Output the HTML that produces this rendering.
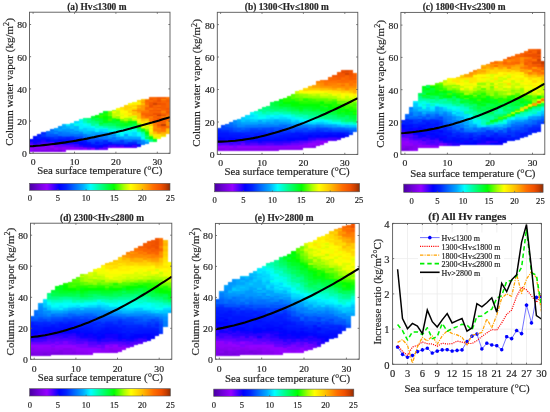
<!DOCTYPE html>
<html><head><meta charset="utf-8"><title>Figure</title>
<style>html,body{margin:0;padding:0;background:#fff}svg{display:block}text{font-family:'Liberation Serif', serif;fill:#262626;stroke:#262626;stroke-width:0.18px}</style>
</head><body>
<svg width="550" height="412" viewBox="0 0 550 412">
<rect width="550" height="412" fill="#fff"/>
<filter id="bl" x="-5%" y="-5%" width="110%" height="110%" color-interpolation-filters="sRGB"><feConvolveMatrix order="3" kernelMatrix="1 2 1 2 8 2 1 2 1" divisor="20" edgeMode="none" preserveAlpha="false"/></filter>
<clipPath id="cla"><rect x="29.5" y="12.2" width="140.50" height="141.10"/></clipPath>
<g clip-path="url(#cla)"><g filter="url(#bl)"><g transform="translate(33.1,153.3) scale(4.14,-1.61)" shape-rendering="crispEdges" fill="none" stroke-width="1">
<path stroke="#8f00f8" d="M-0.5 1v2M0.5 3v1M1.5 3v1M2.5 2v1M5.5 3v1M7.5 1v3M8.5 2v1M21.5 3v1"/>
<path stroke="#9300ff" d="M-0.5 3v2M2.5 4v1M4.5 3v2M5.5 2v1M9.5 2v2M10.5 2v1M12.5 2v1M14.5 2v1M19.5 3v1M20.5 3v1"/>
<path stroke="#5300ff" d="M-0.5 5v1M4.5 6v1M5.5 5v1M6.5 5v2M9.5 4v1M12.5 3v1M17.5 3v1M24.5 3v1"/>
<path stroke="#3d00ff" d="M-0.5 6v1M0.5 5v1M1.5 5v1M2.5 6v1M3.5 6v1M7.5 5v1M9.5 5v1M10.5 4v2M13.5 3v1M15.5 2v1M18.5 4v1M19.5 4v1M21.5 4v1M24.5 4v1"/>
<path stroke="#1100ff" d="M-0.5 7v1M0.5 6v2M1.5 7v1M8.5 6v1M9.5 6v1M12.5 4v1M13.5 4v1M15.5 3v1M16.5 3v1M17.5 4v1M19.5 5v1M22.5 4v1M23.5 4v1"/>
<path stroke="#0002ff" d="M-0.5 8v1M3.5 7v2M5.5 6v1M6.5 7v1M7.5 6v1M10.5 6v1M11.5 5v2M12.5 5v1M16.5 4v1M17.5 5v1"/>
<path stroke="#8700f0" d="M0.5 1v2M1.5 1v2M3.5 2v2M4.5 1v1M6.5 2v1"/>
<path stroke="#6800ff" d="M0.5 4v1M2.5 5v1M3.5 5v1M4.5 5v1M5.5 4v1M6.5 4v1M7.5 4v1M8.5 4v1M13.5 2v1M16.5 2v1M17.5 2v1M18.5 3v1"/>
<path stroke="#000bff" d="M0.5 8v3M1.5 8v1M2.5 8v1M4.5 7v1M5.5 7v1M7.5 7v1M8.5 7v1M12.5 6v1M13.5 5v1M14.5 4v1M15.5 4v1M18.5 5v1M20.5 5v1M24.5 5v1"/>
<path stroke="#7d00ff" d="M1.5 4v1M2.5 3v1M3.5 4v1M6.5 3v1M8.5 3v1M10.5 3v1M11.5 2v2M22.5 3v1M23.5 3v1"/>
<path stroke="#2700ff" d="M1.5 6v1M2.5 7v1M8.5 5v1M11.5 4v1M14.5 3v1M20.5 4v1"/>
<path stroke="#001cff" d="M1.5 9v3M3.5 9v1M4.5 8v1M5.5 8v1M8.5 9v1M9.5 8v1"/>
<path stroke="#7f00e8" d="M2.5 1v1M3.5 1v1M4.5 2v1M5.5 1v1"/>
<path stroke="#0013ff" d="M2.5 9v1M6.5 8v1M7.5 8v1M8.5 8v1M9.5 7v1M10.5 7v1M11.5 7v1M12.5 7v1M13.5 6v1M14.5 5v1M15.5 6v1M18.5 6v1M21.5 5v1M22.5 5v1M23.5 5v1M25.5 4v2"/>
<path stroke="#0035ff" d="M2.5 10v2M5.5 9v1M6.5 10v1M10.5 9v1M12.5 8v1M14.5 6v1M15.5 7v1M19.5 6v1M20.5 6v1M21.5 6v2"/>
<path stroke="#0026ff" d="M2.5 12v1M4.5 9v1M6.5 9v1M7.5 9v1M9.5 9v1M10.5 8v1M11.5 8v1M15.5 5v1M16.5 5v2M17.5 6v2M23.5 6v1M24.5 6v1"/>
<path stroke="#0044ff" d="M3.5 10v1M5.5 10v1M9.5 10v1M11.5 9v1M13.5 7v2M14.5 7v1M16.5 7v1M22.5 6v1"/>
<path stroke="#0053ff" d="M3.5 11v1M4.5 10v2M5.5 11v1M7.5 10v1M8.5 10v1M11.5 10v1M14.5 8v1M16.5 8v1M20.5 7v1M24.5 7v1"/>
<path stroke="#0062ff" d="M3.5 12v1M10.5 10v1M12.5 9v1M15.5 8v2M16.5 10v1M18.5 7v2M19.5 7v1M22.5 7v1M25.5 7v1"/>
<path stroke="#006fff" d="M3.5 13v1M4.5 12v1M4.5 14v1M5.5 13v1M6.5 11v2M7.5 11v1M8.5 11v1M9.5 11v1M10.5 11v1M11.5 11v1M13.5 10v1M14.5 9v1M17.5 8v1M19.5 9v1M23.5 7v1M25.5 6v1"/>
<path stroke="#007cff" d="M4.5 13v1M7.5 12v1M8.5 12v1M12.5 10v2M13.5 9v1M16.5 9v1M17.5 9v2M19.5 8v1M21.5 8v1M22.5 8v1M23.5 8v1M26.5 5v2"/>
<path stroke="#008aff" d="M5.5 12v1M6.5 13v1M7.5 13v1M9.5 12v1M10.5 13v1M11.5 12v1M15.5 10v2M17.5 11v1M18.5 9v1M19.5 11v1M20.5 8v2M24.5 8v1M26.5 7v1"/>
<path stroke="#0097ff" d="M5.5 14v1M6.5 15v2M7.5 14v1M8.5 13v2M9.5 14v1M10.5 12v1M13.5 11v1M14.5 11v1M16.5 11v1M18.5 11v1M21.5 9v1M25.5 8v1M27.5 6v1"/>
<path stroke="#00a5ff" d="M5.5 15v1M6.5 14v1M7.5 16v1M8.5 15v1M9.5 13v1M14.5 10v1M14.5 12v1M15.5 12v1M16.5 12v1M17.5 12v1M18.5 10v1M18.5 12v1M19.5 10v1M22.5 11v1M23.5 9v1M24.5 9v1M25.5 9v1"/>
<path stroke="#7800e1" d="M6.5 1v1"/>
<path stroke="#00b6ff" d="M7.5 15v1M7.5 17v1M8.5 16v1M10.5 14v3M11.5 13v1M12.5 12v1M13.5 12v2M14.5 13v1M22.5 9v2M23.5 10v1"/>
<path stroke="#00f0ff" d="M8.5 17v1M9.5 18v1M10.5 18v1M11.5 15v3M11.5 19v1M12.5 16v1M13.5 16v1M15.5 14v1M17.5 13v1M18.5 13v1M19.5 12v1M20.5 13v1M22.5 12v1M23.5 11v2"/>
<path stroke="#00c9ff" d="M9.5 15v3M11.5 14v1M12.5 13v3M16.5 13v1M20.5 10v2M21.5 10v1M24.5 10v1M27.5 7v1"/>
<path stroke="#00ffe7" d="M10.5 17v1M11.5 20v1M12.5 18v1M13.5 17v1M16.5 15v1M19.5 14v1M21.5 13v1M22.5 14v1M24.5 14v1"/>
<path stroke="#00dcff" d="M10.5 19v1M13.5 14v2M14.5 14v2M16.5 14v1M17.5 14v1M24.5 11v2M25.5 10v1M26.5 8v1"/>
<path stroke="#00fffb" d="M11.5 18v1M12.5 17v1M14.5 16v1M15.5 13v1M15.5 15v1M17.5 15v1M19.5 13v1M20.5 12v1M21.5 11v2M22.5 13v1M23.5 13v1M24.5 13v1M25.5 11v2M26.5 9v1"/>
<path stroke="#00ffbe" d="M12.5 19v1M15.5 16v2M18.5 15v1M20.5 14v1M23.5 14v1"/>
<path stroke="#00ffaa" d="M12.5 20v1M17.5 16v1M19.5 15v1M20.5 15v1M22.5 15v1M26.5 12v1"/>
<path stroke="#00ff83" d="M12.5 21v1M13.5 19v1M14.5 19v1M15.5 18v1M23.5 16v1M25.5 14v1"/>
<path stroke="#00ffd3" d="M13.5 18v1M16.5 16v1M18.5 14v1M21.5 14v1M26.5 10v2M27.5 8v1"/>
<path stroke="#00ff96" d="M13.5 20v1M14.5 17v2M18.5 16v1M19.5 16v1M21.5 15v1M23.5 15v1M24.5 15v1M25.5 13v1M27.5 10v1M28.5 7v1"/>
<path stroke="#00ff5e" d="M13.5 21v1M14.5 20v1M15.5 21v1M16.5 17v1M17.5 18v1M18.5 17v1M19.5 17v1M22.5 16v1M25.5 15v1"/>
<path stroke="#00ff38" d="M14.5 21v2M15.5 20v1M16.5 20v1M20.5 17v1M20.5 19v1M21.5 18v1M27.5 11v1M29.5 7v1"/>
<path stroke="#00ff70" d="M15.5 19v1M17.5 17v1M18.5 18v1M20.5 16v1M24.5 16v1M28.5 8v1"/>
<path stroke="#00ff13" d="M15.5 22v2M17.5 19v2M22.5 17v1M24.5 19v1M26.5 14v1M28.5 9v1"/>
<path stroke="#00ff26" d="M16.5 18v1M16.5 21v1M16.5 24v1M17.5 25v1M18.5 19v1M19.5 19v2M21.5 17v1M22.5 18v1M23.5 17v2M24.5 18v1M29.5 8v1"/>
<path stroke="#00ff4b" d="M16.5 19v1M19.5 18v1M20.5 18v1M21.5 16v1M24.5 17v1M26.5 13v1M27.5 9v1"/>
<path stroke="#1dff00" d="M16.5 22v1M17.5 23v2M18.5 21v2M21.5 19v1"/>
<path stroke="#3aff00" d="M16.5 23v1M18.5 20v1M19.5 21v1M22.5 19v1M27.5 13v1M28.5 10v1"/>
<path stroke="#00ff00" d="M17.5 21v2M20.5 20v1M23.5 19v1M25.5 16v1M27.5 12v1"/>
<path stroke="#74ff00" d="M18.5 23v1M18.5 25v1M21.5 20v1M23.5 20v1M26.5 15v1M27.5 14v1"/>
<path stroke="#57ff00" d="M18.5 24v1M25.5 17v1"/>
<path stroke="#aeff00" d="M19.5 22v1M22.5 20v1M25.5 18v1"/>
<path stroke="#c4ff00" d="M19.5 23v2M20.5 24v2M24.5 20v1M24.5 22v1M27.5 16v1M28.5 11v1M29.5 9v1"/>
<path stroke="#f1ff00" d="M19.5 25v1M20.5 23v1M21.5 21v2M21.5 24v1M22.5 22v1M24.5 31v1M26.5 16v1M28.5 13v1M30.5 9v1M31.5 10v1"/>
<path stroke="#92ff00" d="M19.5 26v1M20.5 21v2M22.5 21v1M23.5 21v1"/>
<path stroke="#dbff00" d="M20.5 26v1M21.5 23v1M23.5 22v1M26.5 17v1M27.5 15v1"/>
<path stroke="#fffb00" d="M20.5 27v1M21.5 25v2M22.5 23v1M22.5 25v1M23.5 30v1M24.5 21v1M26.5 18v1M28.5 14v1M28.5 16v1"/>
<path stroke="#ffe700" d="M21.5 27v1M22.5 26v1M24.5 23v1M27.5 19v1M28.5 12v1M28.5 15v1M29.5 11v1M30.5 11v1"/>
<path stroke="#ffdc00" d="M21.5 28v1M23.5 26v2M23.5 29v1M25.5 32v1M26.5 19v1M28.5 18v1M30.5 10v1"/>
<path stroke="#fff100" d="M22.5 24v1M23.5 24v1M24.5 28v1M24.5 30v1M25.5 19v2M25.5 30v2M27.5 17v1M29.5 10v1"/>
<path stroke="#ffd200" d="M22.5 27v3M23.5 23v1M23.5 25v1M24.5 27v1M24.5 29v1M27.5 18v1"/>
<path stroke="#ffc800" d="M23.5 28v1M24.5 25v1M25.5 21v1M26.5 33v1M27.5 20v1M28.5 17v1M31.5 11v1"/>
<path stroke="#ffbe00" d="M24.5 24v1M25.5 22v3M25.5 28v1M26.5 20v1M26.5 30v1M29.5 12v1M32.5 12v3"/>
<path stroke="#ff7f00" d="M24.5 26v1M25.5 26v1M26.5 22v1M27.5 26v1M27.5 29v1M28.5 22v1M29.5 14v1M29.5 17v1M30.5 13v2M31.5 22v1M31.5 25v1M32.5 21v3"/>
<path stroke="#ff9800" d="M25.5 25v1M25.5 27v1M26.5 21v1M26.5 27v3M26.5 31v1M27.5 21v1M30.5 12v1"/>
<path stroke="#ffa500" d="M25.5 29v1M29.5 13v1M32.5 15v1"/>
<path stroke="#ff7300" d="M26.5 23v1M26.5 25v1M27.5 25v1M28.5 20v2M28.5 27v1M29.5 18v1M30.5 18v1M31.5 13v2M32.5 34v1"/>
<path stroke="#fa6300" d="M26.5 24v1M27.5 24v1M27.5 27v2M27.5 32v1M28.5 24v2M28.5 34v1M29.5 25v1M29.5 27v1M29.5 29v1M29.5 34v1M30.5 22v1M30.5 25v1M30.5 31v1M31.5 16v1M31.5 20v1M31.5 24v1M31.5 31v2M32.5 16v1M32.5 24v1M32.5 26v1M32.5 28v4M32.5 33v1"/>
<path stroke="#ff8c00" d="M26.5 26v1M27.5 33v1M28.5 19v1M29.5 15v2M30.5 15v1M31.5 33v1M32.5 17v3"/>
<path stroke="#ffb200" d="M26.5 32v1M31.5 12v1"/>
<path stroke="#fd6a00" d="M27.5 22v1M27.5 30v2M28.5 32v1M29.5 19v1M29.5 21v1M29.5 23v1M29.5 33v1M30.5 16v1M30.5 27v1M30.5 29v1M31.5 15v1M31.5 18v1M31.5 26v1M32.5 20v1"/>
<path stroke="#f65c00" d="M27.5 23v1M29.5 20v1M29.5 22v1M29.5 28v1M29.5 32v1M30.5 19v1M31.5 19v1M31.5 27v3M31.5 34v1M32.5 32v1"/>
<path stroke="#ed4f00" d="M28.5 23v1M28.5 29v1M29.5 24v1M30.5 20v2M30.5 24v1M30.5 26v1M30.5 28v1M30.5 30v1M30.5 32v1M31.5 21v1"/>
<path stroke="#f35500" d="M28.5 26v1M28.5 28v1M28.5 30v2M28.5 33v1M29.5 26v1M29.5 31v1M30.5 17v1M30.5 33v2M31.5 30v1M32.5 25v1M32.5 27v1"/>
<path stroke="#d14200" d="M29.5 30v1"/>
<path stroke="#be3b01" d="M30.5 23v1M31.5 17v1"/>
<path stroke="#df4800" d="M31.5 23v1"/>
</g></g>
<polyline points="29.5,146.3 33.1,146.1 36.7,145.8 40.3,145.5 43.9,145.1 47.5,144.7 51.1,144.3 54.7,143.9 58.3,143.4 61.9,142.9 65.5,142.4 69.1,141.8 72.7,141.2 76.3,140.6 79.9,139.9 83.5,139.3 87.1,138.6 90.7,137.8 94.3,137.1 97.9,136.3 101.6,135.5 105.2,134.7 108.8,133.9 112.4,133.0 116.0,132.2 119.6,131.3 123.2,130.4 126.8,129.4 130.4,128.5 134.0,127.5 137.6,126.5 141.2,125.5 144.8,124.5 148.4,123.5 152.0,122.5 155.6,121.4 159.2,120.4 162.8,119.3 166.4,118.2 170.0,117.2" fill="none" stroke="#000" stroke-width="2.1"/>
</g>
<rect x="29.5" y="12.2" width="140.50" height="141.10" fill="none" stroke="#585858" stroke-width="0.9"/>
<path d="M33.1 153.3v-1.6M33.1 12.2v1.6M74.5 153.3v-1.6M74.5 12.2v1.6M115.9 153.3v-1.6M115.9 12.2v1.6M157.3 153.3v-1.6M157.3 12.2v1.6M29.5 153.3h1.6M170.0 153.3h-1.6M29.5 121.1h1.6M170.0 121.1h-1.6M29.5 88.9h1.6M170.0 88.9h-1.6M29.5 56.7h1.6M170.0 56.7h-1.6M29.5 24.5h1.6M170.0 24.5h-1.6" stroke="#585858" stroke-width="0.8" fill="none"/>
<text transform="translate(33.1,165.2) scale(1.08,1)" font-size="9.0" text-anchor="middle">0</text>
<text transform="translate(74.5,165.2) scale(1.08,1)" font-size="9.0" text-anchor="middle">10</text>
<text transform="translate(115.9,165.2) scale(1.08,1)" font-size="9.0" text-anchor="middle">20</text>
<text transform="translate(157.3,165.2) scale(1.08,1)" font-size="9.0" text-anchor="middle">30</text>
<text transform="translate(26.9,157.2) scale(1.08,1)" font-size="9.0" text-anchor="end">0</text>
<text transform="translate(26.9,125.0) scale(1.08,1)" font-size="9.0" text-anchor="end">20</text>
<text transform="translate(26.9,92.8) scale(1.08,1)" font-size="9.0" text-anchor="end">40</text>
<text transform="translate(26.9,60.6) scale(1.08,1)" font-size="9.0" text-anchor="end">60</text>
<text transform="translate(26.9,28.4) scale(1.08,1)" font-size="9.0" text-anchor="end">80</text>
<text x="99.8" y="174.0" font-size="10.8" text-anchor="middle">Sea surface temperature (°C)</text>
<text transform="translate(12.6,82.0) rotate(-90)" font-size="11.05" text-anchor="middle">Column water vapor (kg/m<tspan font-size="8.1" dy="-3.6">2</tspan><tspan dy="3.6">)</tspan></text>
<text x="96.8" y="9.8" font-size="9.4" font-weight="bold" text-anchor="middle" fill="#000">(a) Hv≤1300 m</text>
<linearGradient id="ga" x1="0" x2="1" y1="0" y2="0"><stop offset="0.000" stop-color="#4800a0"/><stop offset="0.060" stop-color="#6e00d7"/><stop offset="0.123" stop-color="#9600ff"/><stop offset="0.170" stop-color="#4600ff"/><stop offset="0.210" stop-color="#0000ff"/><stop offset="0.260" stop-color="#0023ff"/><stop offset="0.310" stop-color="#005fff"/><stop offset="0.380" stop-color="#00aaff"/><stop offset="0.435" stop-color="#00ffff"/><stop offset="0.500" stop-color="#00ff96"/><stop offset="0.600" stop-color="#00ff00"/><stop offset="0.673" stop-color="#aaff00"/><stop offset="0.720" stop-color="#ffff00"/><stop offset="0.800" stop-color="#ffbe00"/><stop offset="0.880" stop-color="#ff6e00"/><stop offset="0.935" stop-color="#f05000"/><stop offset="0.970" stop-color="#c83e00"/><stop offset="1.000" stop-color="#8c2d05"/></linearGradient>
<rect x="29.6" y="183.3" width="140.40" height="7.00" fill="url(#ga)" stroke="#585858" stroke-width="0.6"/>
<text x="29.9" y="201.3" font-size="8.6" text-anchor="middle">0</text>
<text x="58.0" y="201.3" font-size="8.6" text-anchor="middle">5</text>
<text x="86.1" y="201.3" font-size="8.6" text-anchor="middle">10</text>
<text x="114.2" y="201.3" font-size="8.6" text-anchor="middle">15</text>
<text x="142.3" y="201.3" font-size="8.6" text-anchor="middle">20</text>
<text x="170.4" y="201.3" font-size="8.6" text-anchor="middle">25</text>
<path d="M58.0 190.3v-1.4M86.1 190.3v-1.4M114.2 190.3v-1.4M142.3 190.3v-1.4" stroke="#585858" stroke-width="0.7" fill="none"/>
<clipPath id="clb"><rect x="217.3" y="12.3" width="140.50" height="142.10"/></clipPath>
<g clip-path="url(#clb)"><g filter="url(#bl)"><g transform="translate(220.6,154.4) scale(4.14,-1.6225)" shape-rendering="crispEdges" fill="none" stroke-width="1">
<path stroke="#8700f0" d="M-0.5 2v2M0.5 2v2M1.5 2v1M2.5 2v2M3.5 2v2M4.5 3v1M5.5 2v2M6.5 2v2M7.5 2v2M8.5 2v2M9.5 2v2M10.5 2v2M11.5 2v2M12.5 2v2M13.5 2v2M14.5 3v1M15.5 3v1M16.5 3v1M17.5 3v1M18.5 3v1M19.5 3v1M22.5 4v1"/>
<path stroke="#9300ff" d="M-0.5 4v1M0.5 4v1M2.5 4v1M4.5 4v1M5.5 4v1M6.5 4v1M7.5 4v1M8.5 4v1M11.5 4v1M19.5 5v1M20.5 5v1M21.5 5v2M22.5 6v1M24.5 7v1M25.5 7v1"/>
<path stroke="#6800ff" d="M-0.5 5v1M2.5 5v1M3.5 5v1M5.5 5v2M6.5 5v1M7.5 5v1M8.5 5v1M9.5 5v1M10.5 5v1M11.5 5v1M12.5 5v1M13.5 5v1M14.5 5v1M15.5 5v1M17.5 6v1M18.5 6v1M19.5 6v1M21.5 7v1M24.5 8v1M25.5 8v1M26.5 8v1"/>
<path stroke="#5300ff" d="M-0.5 6v1M0.5 6v1M1.5 6v1M3.5 6v1M7.5 6v1M8.5 6v1M11.5 6v1M12.5 6v1M15.5 6v1M16.5 6v1M19.5 7v1M20.5 7v1M22.5 8v1M27.5 8v1"/>
<path stroke="#3d00ff" d="M-0.5 7v1M0.5 7v1M1.5 7v1M2.5 6v2M4.5 6v2M5.5 7v1M6.5 6v1M9.5 6v1M10.5 6v1M13.5 6v1M14.5 6v1M17.5 7v1M18.5 7v1M21.5 8v1M23.5 9v1M24.5 9v1M25.5 9v1M26.5 9v1M27.5 9v1M28.5 9v1"/>
<path stroke="#1100ff" d="M-0.5 8v1M0.5 8v1M1.5 8v1M2.5 8v1M3.5 8v1M5.5 8v1M6.5 8v1M9.5 7v1M15.5 8v1M21.5 10v1M22.5 10v1M23.5 10v1M24.5 10v1M25.5 10v1M28.5 10v1M29.5 10v1"/>
<path stroke="#0002ff" d="M-0.5 9v2M0.5 9v1M2.5 9v1M3.5 9v1M4.5 8v1M7.5 8v1M8.5 8v1M9.5 8v1M10.5 8v1M11.5 8v1M12.5 8v1M13.5 8v1M14.5 8v1M16.5 8v2M17.5 8v2M18.5 9v1M19.5 9v1M20.5 9v2M21.5 11v1M23.5 11v1M25.5 11v1M26.5 11v1M27.5 11v1M28.5 11v1M29.5 11v1"/>
<path stroke="#0013ff" d="M-0.5 11v2M0.5 11v2M1.5 11v2M2.5 11v1M3.5 10v2M4.5 10v2M6.5 10v2M8.5 10v2M11.5 10v2M12.5 9v2M13.5 10v1M14.5 10v2M15.5 11v1M16.5 11v1M17.5 11v2M18.5 11v2M19.5 12v1M21.5 12v1M22.5 12v1M23.5 12v1M24.5 12v2M25.5 12v2M27.5 12v1"/>
<path stroke="#001cff" d="M-0.5 13v2M0.5 13v1M1.5 13v1M2.5 12v1M3.5 12v1M4.5 12v1M5.5 11v2M7.5 11v1M8.5 12v1M9.5 11v2M10.5 11v2M11.5 12v1M12.5 11v1M12.5 13v1M13.5 11v1M14.5 13v1M15.5 12v1M16.5 12v1M18.5 13v1M20.5 12v1M22.5 13v1M23.5 13v1M26.5 13v1M27.5 13v1M28.5 13v1M30.5 12v1"/>
<path stroke="#0035ff" d="M-0.5 15v1M2.5 14v1M5.5 13v1M7.5 14v1M8.5 13v2M9.5 14v1M10.5 14v1M11.5 13v1M12.5 14v1M13.5 13v1M14.5 14v1M15.5 13v2M16.5 14v1M17.5 13v1M18.5 14v1M19.5 14v1M21.5 14v1M22.5 14v1M24.5 14v1M26.5 14v1M31.5 12v1"/>
<path stroke="#7d00ff" d="M0.5 5v1M1.5 5v1M3.5 4v1M4.5 5v1M16.5 5v1M17.5 5v1M18.5 5v1M20.5 6v1M22.5 7v1M23.5 7v2"/>
<path stroke="#000bff" d="M0.5 10v1M1.5 9v2M2.5 10v1M4.5 9v1M5.5 9v2M6.5 9v1M7.5 9v2M8.5 9v1M9.5 9v2M10.5 9v2M11.5 9v1M13.5 9v1M14.5 9v1M15.5 9v2M16.5 10v1M17.5 10v1M18.5 10v1M19.5 10v2M20.5 11v1M22.5 11v1M24.5 11v1M26.5 12v1M28.5 12v1M29.5 12v1M30.5 11v1"/>
<path stroke="#0026ff" d="M0.5 14v1M1.5 14v1M2.5 13v1M3.5 13v1M4.5 13v1M6.5 12v2M7.5 12v2M9.5 13v1M10.5 13v1M12.5 12v1M13.5 12v1M14.5 12v1M16.5 13v1M19.5 13v1M20.5 13v1M21.5 13v1M23.5 14v1M29.5 13v1M30.5 13v1"/>
<path stroke="#0044ff" d="M0.5 15v3M1.5 15v2M2.5 15v1M3.5 14v1M5.5 14v1M6.5 14v1M7.5 15v1M8.5 15v1M10.5 15v1M11.5 14v2M12.5 15v1M13.5 14v1M14.5 15v1M17.5 14v1M20.5 14v2M23.5 15v1M24.5 15v1M25.5 14v2M27.5 14v1M28.5 14v1M29.5 14v1M30.5 14v1"/>
<path stroke="#8f00f8" d="M1.5 3v2M9.5 4v1M10.5 4v1M12.5 4v1M13.5 4v1M14.5 4v1M15.5 4v1M16.5 4v1M17.5 4v1M18.5 4v1M19.5 4v1M20.5 4v1M21.5 4v1M22.5 5v1M23.5 5v2M24.5 6v1"/>
<path stroke="#0062ff" d="M1.5 17v1M2.5 17v1M3.5 16v1M5.5 15v1M9.5 16v1M10.5 16v1M11.5 16v1M14.5 16v1M15.5 17v1M17.5 16v1M18.5 16v1M21.5 15v1M23.5 16v1M27.5 15v1M28.5 15v1M29.5 15v1M32.5 14v1"/>
<path stroke="#0053ff" d="M1.5 18v1M2.5 16v1M3.5 15v1M4.5 14v2M6.5 15v1M9.5 15v1M12.5 16v1M13.5 15v2M15.5 15v1M16.5 15v1M17.5 15v1M18.5 15v1M19.5 15v1M22.5 15v1M26.5 15v1M31.5 13v2"/>
<path stroke="#006fff" d="M2.5 18v2M3.5 17v1M4.5 16v1M5.5 16v1M6.5 16v1M7.5 16v1M8.5 16v1M14.5 17v1M15.5 16v1M16.5 16v1M19.5 16v1M20.5 16v1M21.5 16v1M24.5 16v1M25.5 16v1M30.5 15v1"/>
<path stroke="#2700ff" d="M3.5 7v1M6.5 7v1M7.5 7v1M8.5 7v1M10.5 7v1M11.5 7v1M12.5 7v1M13.5 7v1M14.5 7v1M15.5 7v1M16.5 7v1M18.5 8v1M19.5 8v1M20.5 8v1M21.5 9v1M22.5 9v1M26.5 10v1M27.5 10v1"/>
<path stroke="#007cff" d="M3.5 18v1M6.5 17v1M7.5 17v1M8.5 17v1M9.5 17v2M10.5 17v1M11.5 17v1M12.5 17v1M13.5 17v1M14.5 18v1M16.5 17v2M17.5 17v1M18.5 17v1M19.5 17v1M20.5 17v1M22.5 16v1M23.5 17v1M26.5 16v1M28.5 16v1M31.5 15v1M32.5 15v1"/>
<path stroke="#008aff" d="M3.5 19v2M4.5 17v2M5.5 17v1M10.5 18v1M11.5 18v1M12.5 18v1M15.5 18v1M21.5 17v1M22.5 17v1M24.5 17v1M27.5 16v1M29.5 16v1"/>
<path stroke="#7f00e8" d="M4.5 2v1"/>
<path stroke="#0097ff" d="M4.5 19v1M5.5 18v1M6.5 18v1M7.5 18v1M8.5 18v1M11.5 19v1M13.5 18v2M14.5 19v1M15.5 19v1M17.5 18v1M18.5 18v1M25.5 17v1M26.5 17v1"/>
<path stroke="#00a5ff" d="M4.5 20v1M5.5 19v1M6.5 19v1M7.5 19v1M8.5 19v1M9.5 19v2M10.5 19v1M12.5 19v1M13.5 20v1M16.5 19v1M19.5 18v1M20.5 18v1M21.5 18v1M23.5 18v1M24.5 18v1M27.5 17v1M30.5 16v1M31.5 16v1M32.5 16v1"/>
<path stroke="#00b6ff" d="M4.5 21v1M6.5 20v1M11.5 20v1M12.5 20v1M13.5 21v1M14.5 20v1M15.5 20v1M16.5 20v1M17.5 19v1M18.5 19v1M19.5 19v1M22.5 18v1M25.5 18v1M26.5 18v1M27.5 18v1M28.5 17v1M30.5 17v1"/>
<path stroke="#00c9ff" d="M5.5 20v3M6.5 21v1M7.5 20v2M8.5 20v1M10.5 20v2M11.5 21v1M12.5 21v1M14.5 21v1M15.5 21v1M16.5 21v1M18.5 20v1M20.5 19v1M23.5 19v1M24.5 19v1M29.5 17v1M31.5 17v1M32.5 17v1"/>
<path stroke="#00dcff" d="M6.5 22v2M7.5 23v1M8.5 21v1M9.5 21v1M12.5 22v1M14.5 22v1M15.5 22v1M17.5 20v1M21.5 19v1M22.5 19v1M25.5 19v1M28.5 18v1"/>
<path stroke="#00f0ff" d="M7.5 22v1M7.5 24v1M8.5 22v2M11.5 22v2M13.5 22v2M14.5 23v1M16.5 22v1M17.5 21v2M18.5 21v1M19.5 20v1M20.5 20v1M21.5 20v1M24.5 20v1M26.5 19v1M29.5 18v1M30.5 18v1"/>
<path stroke="#00fffb" d="M7.5 25v1M8.5 24v1M9.5 22v1M10.5 22v1M12.5 23v1M15.5 23v1M16.5 23v1M19.5 21v1M20.5 21v1M22.5 20v1M23.5 20v1M25.5 20v1M27.5 19v1M28.5 19v1"/>
<path stroke="#00ffd3" d="M8.5 25v2M9.5 24v2M10.5 24v1M12.5 24v1M13.5 25v1M15.5 24v1M16.5 24v1M17.5 23v1M23.5 21v1M29.5 19v1M31.5 19v1"/>
<path stroke="#00ffe7" d="M9.5 23v1M10.5 23v1M14.5 24v1M18.5 22v1M19.5 22v1M21.5 21v1M22.5 21v1M24.5 21v1M26.5 20v1M31.5 18v1M32.5 18v1"/>
<path stroke="#00ffbe" d="M9.5 26v1M11.5 24v2M12.5 25v1M13.5 24v1M14.5 25v1M17.5 24v1M18.5 23v1M20.5 22v2M22.5 22v1M25.5 21v1M27.5 20v1M28.5 20v1M30.5 19v1"/>
<path stroke="#00ff83" d="M9.5 27v1M10.5 26v1M11.5 27v2M12.5 26v2M14.5 26v2M16.5 26v1M17.5 25v1M18.5 25v1M20.5 24v1M25.5 22v1M26.5 22v2M27.5 22v1M29.5 20v2"/>
<path stroke="#00ffaa" d="M10.5 25v1M11.5 26v1M15.5 25v1M16.5 25v1M19.5 23v2M21.5 22v1M26.5 21v1M32.5 19v1"/>
<path stroke="#00ff96" d="M10.5 27v1M13.5 26v1M15.5 26v1M18.5 24v1M21.5 23v1M22.5 23v1M23.5 22v2M24.5 22v1M27.5 21v1M28.5 21v1"/>
<path stroke="#00ff70" d="M10.5 28v1M13.5 27v1M15.5 27v1M17.5 26v1M18.5 26v1M19.5 25v1M20.5 25v1M21.5 24v2M22.5 24v2M23.5 24v1M24.5 23v1M25.5 23v1M27.5 23v1M28.5 22v1M29.5 22v1M30.5 20v1M30.5 22v1M31.5 20v1"/>
<path stroke="#00ff5e" d="M11.5 29v1M12.5 28v2M13.5 28v1M15.5 28v1M16.5 27v1M20.5 26v1M21.5 26v1M23.5 25v1M24.5 24v2M25.5 24v1M30.5 21v1M30.5 23v1M31.5 21v1M32.5 20v1"/>
<path stroke="#00ff4b" d="M12.5 30v2M13.5 29v1M14.5 28v1M16.5 28v1M17.5 27v1M18.5 27v1M19.5 26v1M20.5 27v1M22.5 26v1M23.5 26v1M25.5 25v1M26.5 24v3M27.5 24v1M28.5 23v1M31.5 22v1M32.5 21v1"/>
<path stroke="#00ff38" d="M13.5 30v2M14.5 29v1M17.5 28v1M21.5 27v1M23.5 27v1M24.5 26v1M25.5 26v1M27.5 25v1M28.5 24v1M29.5 23v2M31.5 23v1M32.5 22v2"/>
<path stroke="#00ff26" d="M13.5 32v1M14.5 31v1M15.5 29v2M16.5 29v2M18.5 28v1M19.5 27v1M19.5 29v1M20.5 28v1M21.5 28v1M22.5 27v1M24.5 29v1M25.5 28v1M27.5 26v2M29.5 25v1M31.5 25v1"/>
<path stroke="#00ff13" d="M14.5 30v1M14.5 32v2M17.5 29v1M17.5 32v1M18.5 29v1M19.5 28v1M20.5 29v1M21.5 29v1M22.5 28v2M23.5 28v1M24.5 27v2M25.5 27v1M26.5 27v1M28.5 25v3M29.5 27v1M30.5 24v2M31.5 24v1"/>
<path stroke="#00ff00" d="M15.5 31v1M16.5 31v1M17.5 30v2M18.5 30v2M19.5 30v1M20.5 30v1M21.5 30v1M22.5 30v1M23.5 29v2M24.5 31v1M25.5 30v1M26.5 28v3M27.5 28v1M28.5 28v2M29.5 29v1M30.5 26v2M31.5 26v1M32.5 24v1M32.5 26v1"/>
<path stroke="#1dff00" d="M15.5 32v3M16.5 32v3M17.5 33v1M18.5 32v1M19.5 31v2M20.5 31v1M20.5 33v1M21.5 31v2M22.5 31v1M23.5 31v1M24.5 30v1M24.5 32v1M27.5 29v3M28.5 30v1M29.5 26v1M29.5 28v1M31.5 27v2M32.5 25v1M32.5 27v1"/>
<path stroke="#3aff00" d="M16.5 35v1M18.5 33v2M20.5 32v1M20.5 34v1M21.5 33v1M22.5 32v2M23.5 32v1M25.5 29v1M25.5 31v1M26.5 31v2M27.5 32v1M29.5 30v1M30.5 28v3M31.5 29v1M32.5 28v1M32.5 30v1"/>
<path stroke="#57ff00" d="M17.5 34v3M19.5 33v2M21.5 34v1M23.5 33v1M24.5 33v1M25.5 32v2M27.5 33v1M28.5 32v1M29.5 32v1M31.5 30v1M32.5 29v1M32.5 31v1"/>
<path stroke="#74ff00" d="M18.5 35v2M19.5 35v1M22.5 34v1M23.5 34v1M24.5 34v1M25.5 34v1M26.5 33v1M28.5 31v1M29.5 31v1M30.5 31v2M31.5 31v1"/>
<path stroke="#c4ff00" d="M18.5 37v2M19.5 37v1M22.5 36v1M25.5 37v1M26.5 36v1M30.5 34v2M31.5 34v1"/>
<path stroke="#92ff00" d="M19.5 36v1M20.5 35v2M21.5 35v1M22.5 35v1M23.5 35v1M26.5 34v1M31.5 32v1M32.5 33v1"/>
<path stroke="#fffb00" d="M19.5 38v2M20.5 38v1M21.5 38v1M22.5 38v1M23.5 38v1M24.5 38v1M29.5 36v2M31.5 36v1"/>
<path stroke="#dbff00" d="M20.5 37v1M22.5 37v1M23.5 37v1M24.5 36v2M25.5 36v1M28.5 35v2M29.5 34v1M32.5 34v2"/>
<path stroke="#ffd200" d="M20.5 39v1M24.5 39v1M27.5 39v1M29.5 38v1M32.5 37v1"/>
<path stroke="#ffdc00" d="M20.5 40v1M25.5 39v1M30.5 38v1"/>
<path stroke="#aeff00" d="M21.5 36v1M23.5 36v1M24.5 35v1M25.5 35v1M26.5 35v1M27.5 34v2M28.5 33v2M29.5 33v1M30.5 33v1M31.5 33v1M32.5 32v1"/>
<path stroke="#f1ff00" d="M21.5 37v1M26.5 37v1M27.5 36v1M29.5 35v1M30.5 36v1M31.5 35v1"/>
<path stroke="#ffe700" d="M21.5 39v1M22.5 39v1M23.5 39v1M26.5 38v2M27.5 38v1M28.5 38v1"/>
<path stroke="#ffc800" d="M21.5 40v1M22.5 40v1M23.5 40v1M31.5 38v1"/>
<path stroke="#ffbe00" d="M21.5 41v1M24.5 40v1M25.5 40v1M28.5 39v2M29.5 39v1M31.5 39v1"/>
<path stroke="#ffa500" d="M22.5 41v2M23.5 41v1M27.5 40v1M29.5 40v1M31.5 40v1M32.5 40v1"/>
<path stroke="#ff9800" d="M23.5 42v2M24.5 41v1M25.5 41v1M26.5 41v1"/>
<path stroke="#ff7f00" d="M23.5 44v1M24.5 44v1M25.5 42v1M26.5 42v2M27.5 43v1M28.5 42v1M29.5 43v1M32.5 42v2"/>
<path stroke="#ff8c00" d="M24.5 42v2M27.5 41v2M28.5 41v1M28.5 43v1M29.5 41v1M30.5 40v4M31.5 41v1M32.5 41v1"/>
<path stroke="#ff7300" d="M24.5 45v1M25.5 43v2M26.5 44v1M27.5 44v1M28.5 45v1M31.5 42v3M32.5 45v1"/>
<path stroke="#fff100" d="M25.5 38v1M27.5 37v1M28.5 37v1M30.5 37v1M31.5 37v1M32.5 36v1"/>
<path stroke="#fa6300" d="M25.5 45v1M26.5 45v1M26.5 47v1M27.5 46v2M29.5 45v1M29.5 47v1M30.5 46v3M32.5 47v1M32.5 49v1"/>
<path stroke="#ffb200" d="M26.5 40v1M30.5 39v1M32.5 38v2"/>
<path stroke="#fd6a00" d="M26.5 46v1M27.5 45v1M28.5 44v1M29.5 42v1M29.5 44v1M29.5 46v1M30.5 44v2M31.5 45v1M32.5 44v1"/>
<path stroke="#f35500" d="M27.5 48v1M28.5 48v2M29.5 48v2M31.5 48v1M31.5 50v1"/>
<path stroke="#f65c00" d="M28.5 46v2M28.5 50v1M31.5 46v2M32.5 46v1M32.5 48v1"/>
<path stroke="#df4800" d="M29.5 50v1M30.5 51v1"/>
<path stroke="#ed4f00" d="M29.5 51v1M30.5 50v1M31.5 49v1M31.5 51v1"/>
<path stroke="#d14200" d="M30.5 49v1"/>
</g></g>
<polyline points="217.3,141.6 220.9,141.6 224.5,141.5 228.1,141.3 231.7,141.0 235.3,140.7 238.9,140.3 242.5,139.9 246.1,139.3 249.7,138.7 253.3,138.1 256.9,137.4 260.5,136.6 264.1,135.7 267.7,134.8 271.3,133.8 274.9,132.8 278.5,131.7 282.1,130.6 285.7,129.4 289.4,128.2 293.0,126.9 296.6,125.6 300.2,124.3 303.8,122.9 307.4,121.4 311.0,119.9 314.6,118.4 318.2,116.9 321.8,115.3 325.4,113.7 329.0,112.0 332.6,110.4 336.2,108.7 339.8,107.0 343.4,105.2 347.0,103.5 350.6,101.7 354.2,99.9 357.8,98.1" fill="none" stroke="#000" stroke-width="2.1"/>
</g>
<rect x="217.3" y="12.3" width="140.50" height="142.10" fill="none" stroke="#585858" stroke-width="0.9"/>
<path d="M220.6 154.4v-1.6M220.6 12.3v1.6M262.0 154.4v-1.6M262.0 12.3v1.6M303.4 154.4v-1.6M303.4 12.3v1.6M344.8 154.4v-1.6M344.8 12.3v1.6M217.3 154.4h1.6M357.8 154.4h-1.6M217.3 122.0h1.6M357.8 122.0h-1.6M217.3 89.5h1.6M357.8 89.5h-1.6M217.3 57.0h1.6M357.8 57.0h-1.6M217.3 24.6h1.6M357.8 24.6h-1.6" stroke="#585858" stroke-width="0.8" fill="none"/>
<text transform="translate(220.6,165.9) scale(1.08,1)" font-size="9.0" text-anchor="middle">0</text>
<text transform="translate(262.0,165.9) scale(1.08,1)" font-size="9.0" text-anchor="middle">10</text>
<text transform="translate(303.4,165.9) scale(1.08,1)" font-size="9.0" text-anchor="middle">20</text>
<text transform="translate(344.8,165.9) scale(1.08,1)" font-size="9.0" text-anchor="middle">30</text>
<text transform="translate(214.7,158.3) scale(1.08,1)" font-size="9.0" text-anchor="end">0</text>
<text transform="translate(214.7,125.9) scale(1.08,1)" font-size="9.0" text-anchor="end">20</text>
<text transform="translate(214.7,93.4) scale(1.08,1)" font-size="9.0" text-anchor="end">40</text>
<text transform="translate(214.7,60.9) scale(1.08,1)" font-size="9.0" text-anchor="end">60</text>
<text transform="translate(214.7,28.5) scale(1.08,1)" font-size="9.0" text-anchor="end">80</text>
<text x="287.1" y="175.4" font-size="10.8" text-anchor="middle">Sea surface temperature (°C)</text>
<text transform="translate(200.4,83.0) rotate(-90)" font-size="11.05" text-anchor="middle">Column water vapor (kg/m<tspan font-size="8.1" dy="-3.6">2</tspan><tspan dy="3.6">)</tspan></text>
<text x="286.8" y="10.2" font-size="9.4" font-weight="bold" text-anchor="middle" fill="#000">(b) 1300&lt;Hv≤1800 m</text>
<linearGradient id="gb" x1="0" x2="1" y1="0" y2="0"><stop offset="0.000" stop-color="#4800a0"/><stop offset="0.060" stop-color="#6e00d7"/><stop offset="0.123" stop-color="#9600ff"/><stop offset="0.170" stop-color="#4600ff"/><stop offset="0.210" stop-color="#0000ff"/><stop offset="0.260" stop-color="#0023ff"/><stop offset="0.310" stop-color="#005fff"/><stop offset="0.380" stop-color="#00aaff"/><stop offset="0.435" stop-color="#00ffff"/><stop offset="0.500" stop-color="#00ff96"/><stop offset="0.600" stop-color="#00ff00"/><stop offset="0.673" stop-color="#aaff00"/><stop offset="0.720" stop-color="#ffff00"/><stop offset="0.800" stop-color="#ffbe00"/><stop offset="0.880" stop-color="#ff6e00"/><stop offset="0.935" stop-color="#f05000"/><stop offset="0.970" stop-color="#c83e00"/><stop offset="1.000" stop-color="#8c2d05"/></linearGradient>
<rect x="214.6" y="183.4" width="145.00" height="8.40" fill="url(#gb)" stroke="#585858" stroke-width="0.6"/>
<text x="214.6" y="202.5" font-size="8.6" text-anchor="middle">0</text>
<text x="243.5" y="202.5" font-size="8.6" text-anchor="middle">5</text>
<text x="272.4" y="202.5" font-size="8.6" text-anchor="middle">10</text>
<text x="301.3" y="202.5" font-size="8.6" text-anchor="middle">15</text>
<text x="330.2" y="202.5" font-size="8.6" text-anchor="middle">20</text>
<text x="359.1" y="202.5" font-size="8.6" text-anchor="middle">25</text>
<path d="M243.5 191.8v-1.4M272.4 191.8v-1.4M301.3 191.8v-1.4M330.2 191.8v-1.4" stroke="#585858" stroke-width="0.7" fill="none"/>
<clipPath id="clc"><rect x="400.9" y="12.4" width="143.90" height="141.90"/></clipPath>
<g clip-path="url(#clc)"><g filter="url(#bl)"><g transform="translate(404.9,154.3) scale(4.253,-1.615)" shape-rendering="crispEdges" fill="none" stroke-width="1">
<path stroke="#7800e1" d="M-0.5 2v1M0.5 2v2"/>
<path stroke="#7f00e8" d="M-0.5 3v1M0.5 4v1M1.5 3v2"/>
<path stroke="#8700f0" d="M-0.5 4v2M1.5 2v1M2.5 3v3"/>
<path stroke="#8f00f8" d="M-0.5 6v2M0.5 5v2M1.5 5v2M2.5 2v1M3.5 4v1M4.5 4v2M5.5 4v1M6.5 4v1"/>
<path stroke="#7d00ff" d="M-0.5 8v2M0.5 8v2M1.5 7v2M2.5 6v2M3.5 6v1M6.5 5v1M8.5 6v1"/>
<path stroke="#6800ff" d="M-0.5 10v1M2.5 8v1M3.5 7v2M4.5 6v2M7.5 5v1M9.5 5v2"/>
<path stroke="#3d00ff" d="M-0.5 11v1M0.5 12v2M1.5 10v1M1.5 12v1M2.5 9v1M2.5 11v1M3.5 9v1M4.5 9v2M5.5 9v1M6.5 7v1M8.5 7v1M10.5 6v1M12.5 5v1M19.5 7v1"/>
<path stroke="#5300ff" d="M-0.5 12v1M0.5 10v2M1.5 9v1M1.5 11v1M5.5 6v3M6.5 6v1M6.5 8v1M7.5 6v3M10.5 5v1"/>
<path stroke="#1100ff" d="M-0.5 13v1M-0.5 15v1M0.5 14v1M1.5 14v1M2.5 15v1M3.5 10v2M4.5 12v2M5.5 10v1M6.5 9v2M8.5 8v1M8.5 10v1M9.5 7v1M9.5 10v1M10.5 7v2M11.5 7v1M13.5 6v1M14.5 7v1M17.5 8v1M18.5 7v2M22.5 6v1M22.5 8v1"/>
<path stroke="#2700ff" d="M-0.5 14v1M1.5 13v1M2.5 10v1M4.5 8v1M5.5 11v1M7.5 9v1M11.5 5v2M12.5 6v1M17.5 6v1M18.5 6v1M19.5 6v1M20.5 7v1M21.5 7v1"/>
<path stroke="#000bff" d="M-0.5 16v1M0.5 15v1M0.5 17v1M1.5 17v1M2.5 13v1M4.5 17v1M5.5 12v4M6.5 11v1M6.5 16v1M7.5 12v1M7.5 14v2M8.5 11v1M8.5 13v1M9.5 9v1M9.5 11v1M11.5 9v2M12.5 7v1M12.5 9v1M13.5 7v1M13.5 9v1M14.5 8v1M15.5 7v1M16.5 8v1M17.5 7v1M18.5 9v1M19.5 10v1M20.5 6v1M22.5 9v1M23.5 8v2"/>
<path stroke="#0002ff" d="M-0.5 17v1M1.5 15v1M2.5 12v1M2.5 14v1M3.5 12v5M4.5 11v1M4.5 15v1M6.5 12v1M6.5 14v1M7.5 10v2M8.5 9v1M8.5 14v1M9.5 8v1M11.5 8v1M12.5 8v1M14.5 6v1M15.5 6v1M15.5 9v1M16.5 6v2M19.5 8v2M20.5 8v2M21.5 6v1M21.5 8v1M22.5 7v1M23.5 7v1"/>
<path stroke="#0013ff" d="M-0.5 18v1M0.5 16v1M1.5 16v1M1.5 18v1M2.5 16v1M2.5 18v1M3.5 17v1M4.5 14v1M5.5 17v3M6.5 13v1M6.5 15v1M6.5 18v1M7.5 13v1M7.5 16v1M7.5 18v1M8.5 12v1M9.5 13v1M10.5 9v2M10.5 12v1M12.5 11v1M13.5 8v1M14.5 9v1M15.5 8v1M16.5 10v1M17.5 9v1M18.5 10v2M20.5 10v1M21.5 9v1M22.5 10v1M24.5 8v2M24.5 11v1M25.5 8v2M26.5 10v1M27.5 11v2M28.5 12v1M30.5 14v1"/>
<path stroke="#0026ff" d="M-0.5 19v1M0.5 20v2M1.5 19v1M3.5 19v1M4.5 19v1M5.5 20v1M6.5 19v2M7.5 20v1M8.5 16v1M8.5 18v2M9.5 15v1M10.5 14v1M10.5 16v1M11.5 11v2M12.5 12v2M13.5 11v2M14.5 10v2M15.5 12v1M16.5 9v1M17.5 11v1M22.5 11v1M23.5 11v1M24.5 10v1M24.5 13v1M26.5 9v1M26.5 11v3M28.5 11v1M29.5 12v2M29.5 15v1M30.5 15v2M31.5 16v1"/>
<path stroke="#001cff" d="M-0.5 20v1M0.5 18v2M1.5 20v1M2.5 17v1M3.5 18v1M4.5 16v1M4.5 18v1M4.5 20v1M5.5 16v1M6.5 17v1M7.5 17v1M7.5 19v1M9.5 12v1M9.5 14v1M9.5 16v1M10.5 11v1M10.5 13v1M12.5 10v1M13.5 10v1M15.5 10v2M17.5 10v1M20.5 11v1M21.5 10v3M23.5 10v1M25.5 10v1M27.5 10v1M28.5 13v1M29.5 14v1M30.5 13v1M31.5 14v2"/>
<path stroke="#9300ff" d="M0.5 7v1M3.5 5v1M5.5 5v1M7.5 4v1M8.5 5v1"/>
<path stroke="#0062ff" d="M0.5 22v1M1.5 22v1M1.5 24v1M2.5 22v1M5.5 24v1M6.5 22v1M7.5 23v2M8.5 23v1M9.5 20v2M10.5 17v1M10.5 19v1M11.5 16v2M12.5 17v1M17.5 14v1M18.5 14v2M23.5 14v2M24.5 16v1M25.5 15v1M26.5 17v1M27.5 17v1M29.5 18v1M30.5 19v2"/>
<path stroke="#0053ff" d="M0.5 23v1M3.5 23v1M4.5 22v1M5.5 21v1M5.5 23v1M7.5 22v1M8.5 21v1M9.5 18v2M11.5 15v1M13.5 14v1M15.5 13v1M23.5 13v1M25.5 16v1M26.5 15v2M28.5 18v1M29.5 17v1M30.5 18v1M31.5 20v1M32.5 20v2"/>
<path stroke="#006fff" d="M0.5 24v1M1.5 25v1M2.5 23v1M3.5 22v1M4.5 23v1M5.5 22v1M6.5 23v1M9.5 22v1M10.5 21v1M12.5 15v2M14.5 14v1M15.5 14v1M16.5 15v1M21.5 14v2M25.5 17v2M27.5 18v1M29.5 19v1M32.5 22v1"/>
<path stroke="#0044ff" d="M1.5 21v1M2.5 21v1M3.5 20v1M4.5 21v1M7.5 21v1M8.5 22v1M9.5 17v1M10.5 15v1M10.5 18v1M11.5 13v1M12.5 14v1M13.5 13v1M13.5 15v1M14.5 13v1M16.5 13v1M17.5 12v2M20.5 14v1M21.5 13v1M22.5 13v2M24.5 15v1M25.5 14v1M27.5 15v2M28.5 16v2M31.5 18v2"/>
<path stroke="#007cff" d="M1.5 23v1M1.5 28v1M3.5 24v2M6.5 24v1M9.5 23v2M10.5 20v1M10.5 22v2M11.5 18v3M12.5 19v2M13.5 16v3M14.5 15v1M16.5 14v1M17.5 15v1M19.5 15v2M26.5 18v2M27.5 19v1M28.5 19v1M29.5 20v2M31.5 21v1M32.5 23v1"/>
<path stroke="#008aff" d="M1.5 26v2M2.5 24v2M4.5 24v1M7.5 25v1M8.5 24v1M9.5 25v1M11.5 22v1M14.5 17v1M15.5 15v1M16.5 16v1M18.5 16v1M20.5 15v1M22.5 15v2M28.5 20v1M31.5 22v1"/>
<path stroke="#0035ff" d="M2.5 19v2M3.5 21v1M6.5 21v1M8.5 15v1M8.5 17v1M8.5 20v1M11.5 14v1M14.5 12v1M16.5 11v2M18.5 12v2M19.5 11v4M20.5 12v2M22.5 12v1M23.5 12v1M24.5 12v1M24.5 14v1M25.5 11v3M26.5 14v1M27.5 13v2M28.5 14v2M29.5 16v1M30.5 17v1M31.5 17v1M32.5 19v1"/>
<path stroke="#0097ff" d="M2.5 26v1M5.5 25v1M6.5 25v1M7.5 26v1M10.5 24v1M11.5 21v1M11.5 23v1M12.5 18v1M13.5 19v2M15.5 16v1M21.5 16v1M24.5 17v2M25.5 19v1M30.5 21v2M31.5 23v1"/>
<path stroke="#00a5ff" d="M2.5 27v1M3.5 26v1M4.5 26v1M5.5 26v1M7.5 27v2M8.5 25v2M9.5 26v1M10.5 25v1M12.5 22v2M13.5 22v1M14.5 16v1M14.5 19v1M16.5 17v1M20.5 16v1M23.5 16v2M25.5 20v1M26.5 20v1M27.5 20v1M29.5 22v1M30.5 23v1M32.5 24v1"/>
<path stroke="#00b6ff" d="M2.5 28v1M3.5 28v1M4.5 25v1M6.5 26v1M8.5 27v2M11.5 24v1M12.5 21v1M14.5 18v1M14.5 20v1M15.5 17v2M16.5 18v1M17.5 16v1M21.5 17v1M23.5 18v1M24.5 19v1M28.5 21v1M29.5 23v1"/>
<path stroke="#00c9ff" d="M2.5 29v3M3.5 27v1M4.5 27v1M5.5 27v2M7.5 29v1M9.5 27v1M10.5 26v1M11.5 26v1M12.5 25v1M13.5 21v1M13.5 23v1M15.5 19v2M19.5 17v1M20.5 17v1M22.5 17v2M24.5 20v1M26.5 21v1M27.5 21v1M32.5 25v2"/>
<path stroke="#00f0ff" d="M2.5 32v1M3.5 29v1M5.5 29v1M6.5 28v2M11.5 25v1M12.5 26v2M13.5 26v1M14.5 23v1M16.5 19v1M16.5 21v1M17.5 18v3M18.5 17v1M21.5 18v1M24.5 21v1M32.5 27v1"/>
<path stroke="#00fffb" d="M3.5 30v1M4.5 29v1M4.5 31v1M5.5 31v1M7.5 30v1M9.5 29v1M11.5 28v1M15.5 23v1M23.5 20v1M25.5 21v2M28.5 23v1M31.5 26v1"/>
<path stroke="#00ffe7" d="M3.5 31v1M4.5 28v1M4.5 32v1M6.5 31v1M8.5 29v2M10.5 28v2M11.5 27v1M11.5 29v1M12.5 28v1M15.5 21v2M15.5 24v1M16.5 20v1M16.5 23v1M20.5 18v1M22.5 19v1M23.5 19v1M29.5 24v1M32.5 28v1"/>
<path stroke="#00ffd3" d="M3.5 32v1M4.5 30v1M7.5 31v1M9.5 30v1M10.5 30v1M12.5 29v1M13.5 27v2M14.5 27v1M16.5 22v1M17.5 21v1M17.5 23v1M26.5 23v2M27.5 23v1M28.5 24v1M29.5 25v1M30.5 26v1"/>
<path stroke="#00ffaa" d="M3.5 33v1M4.5 33v1M5.5 33v1M6.5 33v1M7.5 32v1M8.5 31v3M9.5 31v1M9.5 33v1M10.5 31v1M11.5 30v1M13.5 30v1M14.5 25v2M15.5 25v1M15.5 27v1M16.5 25v1M17.5 22v1M17.5 24v1M19.5 20v1M20.5 21v3M21.5 25v1M22.5 25v2M23.5 21v1M27.5 25v1M29.5 26v1M31.5 27v1"/>
<path stroke="#00ff96" d="M3.5 34v1M6.5 32v1M9.5 32v1M10.5 32v1M12.5 31v1M14.5 29v1M15.5 26v1M15.5 29v1M16.5 26v1M18.5 22v2M19.5 21v3M22.5 20v1M23.5 25v1M31.5 28v1M32.5 29v1"/>
<path stroke="#00ff83" d="M3.5 35v1M4.5 34v1M7.5 33v1M12.5 30v1M12.5 33v1M16.5 24v1M17.5 25v1M18.5 24v1M19.5 18v1M19.5 24v1M20.5 24v1M20.5 26v1M21.5 22v1M21.5 24v1M21.5 26v1M23.5 26v1M24.5 26v1M24.5 28v1M25.5 23v1M29.5 27v1M30.5 28v1"/>
<path stroke="#00ff4b" d="M3.5 36v1M4.5 35v1M11.5 33v1M13.5 33v1M17.5 29v1M18.5 27v1M18.5 29v1M19.5 25v1M19.5 30v2M20.5 25v1M20.5 29v2M21.5 28v1M22.5 23v1M22.5 31v1M23.5 24v1M23.5 29v1M24.5 29v1M24.5 31v1M25.5 31v1M27.5 29v2M28.5 31v1M32.5 30v2"/>
<path stroke="#00ff5e" d="M3.5 37v1M4.5 37v1M5.5 36v1M5.5 41v1M6.5 35v1M10.5 34v1M11.5 34v2M12.5 34v1M13.5 31v1M15.5 30v1M16.5 28v2M17.5 26v2M18.5 28v1M19.5 19v1M19.5 27v1M19.5 29v1M20.5 27v1M21.5 23v1M21.5 27v1M23.5 27v2M24.5 25v1M24.5 27v1M24.5 30v1M25.5 27v3M26.5 28v1M31.5 29v1"/>
<path stroke="#1dff00" d="M4.5 36v1M7.5 40v3M8.5 40v1M9.5 39v1M12.5 37v1M13.5 35v1M13.5 37v1M14.5 36v1M15.5 35v1M17.5 35v1M18.5 37v1M20.5 34v1M22.5 32v2M23.5 33v1M24.5 23v1M24.5 34v2M25.5 35v2M28.5 33v1M28.5 36v1"/>
<path stroke="#00ff38" d="M4.5 38v1M5.5 35v1M5.5 38v2M5.5 42v1M6.5 34v1M6.5 36v1M6.5 40v1M8.5 35v1M8.5 37v1M14.5 32v2M15.5 32v1M17.5 28v1M18.5 31v1M19.5 28v1M21.5 29v2M23.5 30v2M25.5 26v1M25.5 30v1M26.5 31v2"/>
<path stroke="#00ff26" d="M4.5 39v2M6.5 38v2M7.5 36v1M8.5 34v1M9.5 37v1M10.5 38v1M11.5 37v1M13.5 32v1M15.5 31v1M16.5 31v1M17.5 30v1M17.5 32v1M20.5 28v1M20.5 31v1M20.5 33v1M21.5 20v1M21.5 32v1M22.5 21v1M22.5 30v1M23.5 22v1M23.5 32v1M25.5 32v2M26.5 30v1M27.5 31v1M27.5 33v1M28.5 27v1M28.5 32v1"/>
<path stroke="#00ff13" d="M4.5 41v1M6.5 37v1M7.5 37v1M7.5 39v1M8.5 36v1M8.5 38v1M9.5 35v2M10.5 36v1M12.5 36v1M13.5 34v1M15.5 33v1M16.5 32v3M17.5 34v1M17.5 36v1M18.5 30v1M18.5 32v1M19.5 33v3M20.5 20v1M20.5 32v1M21.5 21v1M21.5 31v1M21.5 33v1M22.5 34v1M26.5 25v1M26.5 33v1M27.5 34v1M29.5 32v1"/>
<path stroke="#00dcff" d="M5.5 30v1M6.5 27v1M9.5 28v1M10.5 27v1M12.5 24v1M13.5 24v2M14.5 21v2M14.5 24v1M17.5 17v1M26.5 22v1M27.5 22v1M28.5 22v1M30.5 24v1M31.5 24v2"/>
<path stroke="#00ffbe" d="M5.5 32v1M6.5 30v1M13.5 29v1M14.5 28v1M18.5 18v4M21.5 19v1M22.5 27v1M24.5 22v1M27.5 24v1M28.5 25v1M30.5 25v1M30.5 27v1"/>
<path stroke="#00ff70" d="M5.5 34v1M7.5 34v2M9.5 34v1M10.5 33v1M11.5 31v2M12.5 32v1M14.5 30v2M15.5 28v1M16.5 27v1M16.5 30v1M18.5 25v2M19.5 26v1M20.5 19v1M22.5 24v1M22.5 28v2M26.5 29v1M28.5 26v1"/>
<path stroke="#00ff00" d="M5.5 37v1M5.5 40v1M6.5 41v1M7.5 38v1M9.5 38v1M10.5 35v1M11.5 36v1M12.5 35v1M14.5 35v1M15.5 34v1M15.5 36v1M17.5 31v1M18.5 33v2M19.5 32v1M24.5 32v2M25.5 24v1M27.5 32v1M28.5 30v1M29.5 28v1M29.5 31v1M30.5 29v1M31.5 30v1M31.5 34v2"/>
<path stroke="#74ff00" d="M6.5 42v1M9.5 41v1M11.5 40v1M11.5 42v1M13.5 38v1M15.5 37v1M16.5 38v1M17.5 39v1M19.5 37v1M20.5 41v1M21.5 38v1M22.5 36v1M23.5 23v1M23.5 35v2M24.5 24v1M24.5 36v1M25.5 39v1M27.5 36v1M30.5 33v1M30.5 35v1M31.5 36v1"/>
<path stroke="#57ff00" d="M7.5 43v1M8.5 39v1M8.5 43v1M10.5 39v1M12.5 38v2M14.5 34v1M17.5 37v2M18.5 38v1M18.5 40v1M19.5 36v1M21.5 34v4M22.5 35v1M26.5 34v2M26.5 37v1M28.5 34v1M29.5 34v1M29.5 36v1M29.5 38v1M32.5 35v1"/>
<path stroke="#3aff00" d="M8.5 41v2M9.5 40v1M10.5 37v1M11.5 38v2M13.5 36v1M16.5 35v1M16.5 37v1M17.5 33v1M18.5 35v2M20.5 35v1M22.5 22v1M23.5 34v1M25.5 34v1M26.5 27v1M26.5 36v1M27.5 26v1M27.5 35v1M28.5 35v1M29.5 33v1M29.5 35v1M30.5 34v1"/>
<path stroke="#c4ff00" d="M8.5 44v1M9.5 44v2M11.5 41v1M13.5 41v1M14.5 40v1M15.5 39v1M16.5 39v1M18.5 42v1M18.5 44v1M19.5 40v2M19.5 44v1M21.5 39v2M21.5 42v1M22.5 39v1M22.5 41v1M22.5 43v1M22.5 45v1M22.5 47v1M23.5 46v1M24.5 39v2M24.5 47v1M25.5 25v1M25.5 41v2M25.5 44v2M26.5 40v1M26.5 42v2M29.5 37v1M29.5 39v1M30.5 37v1M30.5 40v1M31.5 38v2M32.5 39v2"/>
<path stroke="#aeff00" d="M9.5 42v1M12.5 41v1M13.5 39v1M14.5 37v1M14.5 39v1M15.5 38v1M16.5 40v1M17.5 40v1M20.5 36v1M23.5 37v1M23.5 40v1M24.5 38v1M25.5 37v1M25.5 40v1M26.5 38v1M27.5 28v1M27.5 37v1M28.5 37v1M32.5 37v1M32.5 41v1M32.5 43v1"/>
<path stroke="#dbff00" d="M9.5 43v1M10.5 43v1M11.5 43v1M14.5 42v1M14.5 45v1M15.5 42v1M16.5 41v1M17.5 42v1M17.5 44v1M18.5 41v1M19.5 42v2M19.5 45v1M20.5 42v1M20.5 44v1M20.5 46v1M20.5 48v2M21.5 44v2M21.5 49v1M22.5 40v1M22.5 42v1M22.5 46v1M23.5 42v2M24.5 37v1M24.5 42v1M24.5 48v1M25.5 43v1M27.5 41v2M27.5 45v1M28.5 29v1M28.5 38v2M28.5 42v1M29.5 42v1M32.5 32v1M32.5 38v1"/>
<path stroke="#92ff00" d="M10.5 40v3M12.5 40v1M12.5 42v1M14.5 38v1M16.5 36v1M17.5 41v1M17.5 43v1M18.5 39v1M18.5 43v1M19.5 38v2M20.5 37v4M20.5 43v1M22.5 37v2M23.5 38v1M25.5 38v1M26.5 39v1M27.5 38v3M30.5 32v1M30.5 36v1M32.5 36v1"/>
<path stroke="#f1ff00" d="M10.5 44v2M11.5 44v1M13.5 45v1M14.5 41v1M14.5 43v2M15.5 40v1M15.5 43v1M16.5 42v1M18.5 46v1M19.5 46v1M19.5 48v2M20.5 47v1M21.5 43v1M23.5 39v1M23.5 41v1M23.5 47v2M24.5 44v2M24.5 49v1M25.5 49v1M26.5 26v1M26.5 41v1M26.5 44v2M26.5 47v1M27.5 43v1M27.5 47v1M28.5 40v1M29.5 30v1M29.5 40v2M29.5 44v1M30.5 38v2M31.5 33v1M31.5 40v1"/>
<path stroke="#fffb00" d="M10.5 46v1M12.5 43v1M13.5 40v1M13.5 42v2M15.5 41v1M16.5 43v1M16.5 48v1M17.5 46v1M17.5 48v1M18.5 48v1M21.5 48v1M22.5 44v1M22.5 49v2M23.5 45v1M24.5 41v1M25.5 46v1M26.5 48v1M27.5 48v1M28.5 41v1M28.5 43v1M28.5 45v2M29.5 45v1M30.5 41v1M30.5 43v1M31.5 37v1M31.5 41v3"/>
<path stroke="#ffe700" d="M11.5 45v1M12.5 44v3M13.5 46v1M14.5 46v1M15.5 45v2M16.5 45v3M18.5 49v1M19.5 47v1M21.5 46v1M23.5 44v1M25.5 50v1M27.5 27v1M27.5 46v1M30.5 42v1M31.5 31v1M31.5 46v2M32.5 44v1"/>
<path stroke="#fff100" d="M11.5 46v1M13.5 44v1M16.5 44v1M17.5 45v1M17.5 47v1M17.5 49v1M18.5 45v1M20.5 45v1M21.5 41v1M21.5 47v1M22.5 48v1M23.5 50v1M24.5 46v1M24.5 50v1M25.5 47v2M26.5 46v1M26.5 49v2M27.5 44v1M27.5 50v1M28.5 44v1M28.5 47v1M29.5 43v1M30.5 46v1M31.5 44v2M32.5 42v1"/>
<path stroke="#ffd200" d="M12.5 47v1M13.5 48v1M14.5 47v1M15.5 47v1M18.5 52v1M19.5 50v1M19.5 52v1M21.5 51v2M22.5 51v1M23.5 51v2M28.5 28v1M28.5 48v1M30.5 47v1M32.5 47v1"/>
<path stroke="#ffbe00" d="M13.5 47v1M18.5 50v1M20.5 52v1M23.5 53v1M24.5 51v1M29.5 29v1M29.5 48v1M29.5 51v1M32.5 34v1M32.5 46v1"/>
<path stroke="#ffa500" d="M14.5 48v1M15.5 48v1M16.5 50v1M18.5 51v1M19.5 54v1M20.5 53v1M21.5 55v1M22.5 53v1M25.5 52v1M26.5 54v1M27.5 55v1M28.5 50v2M30.5 30v1M30.5 49v1M31.5 48v1"/>
<path stroke="#ffb200" d="M14.5 49v1M16.5 49v1M17.5 50v2M18.5 54v1M19.5 53v1M25.5 53v1M26.5 52v2M27.5 52v1M32.5 48v1"/>
<path stroke="#ffdc00" d="M15.5 44v1M18.5 47v1M20.5 50v2M21.5 50v1M23.5 49v1M24.5 43v1M24.5 52v1M25.5 51v1M27.5 49v1M28.5 49v1M29.5 46v2M30.5 44v2M32.5 45v1"/>
<path stroke="#ff9800" d="M15.5 49v2M17.5 52v1M18.5 53v1M20.5 55v1M22.5 54v1M22.5 57v1M24.5 57v1M25.5 54v1M27.5 51v1M27.5 54v1M28.5 52v1M29.5 49v1M30.5 31v1M30.5 50v1M30.5 53v1"/>
<path stroke="#ff8c00" d="M16.5 51v1M19.5 55v1M20.5 54v1M22.5 55v1M23.5 54v1M24.5 54v1M26.5 55v1M27.5 56v1M27.5 58v2M31.5 49v1M31.5 52v1M32.5 49v1M32.5 51v1"/>
<path stroke="#ffc800" d="M19.5 51v1M21.5 53v1M22.5 52v1M26.5 51v1M30.5 48v1"/>
<path stroke="#ff7300" d="M20.5 56v1M23.5 55v1M23.5 57v2M24.5 56v1M25.5 57v1M25.5 60v1M26.5 57v3M28.5 53v1M29.5 59v1M30.5 51v1M30.5 58v1M31.5 53v1"/>
<path stroke="#fd6a00" d="M21.5 54v1M21.5 56v1M24.5 55v1M25.5 55v2M25.5 59v1M26.5 61v1M28.5 57v1M28.5 63v1M29.5 53v1M29.5 55v1M29.5 62v1M30.5 52v1M31.5 51v1M32.5 33v1M32.5 50v1"/>
<path stroke="#ff7f00" d="M21.5 57v1M22.5 56v1M24.5 53v1M24.5 58v1M25.5 58v1M27.5 53v1M27.5 57v1M28.5 54v1M28.5 59v1M29.5 50v1M29.5 52v1M31.5 50v1"/>
<path stroke="#fa6300" d="M23.5 56v1M26.5 56v1M27.5 61v1M28.5 58v1M29.5 54v1M29.5 56v1M29.5 58v1M29.5 64v1M30.5 63v1M31.5 55v1M32.5 53v1"/>
<path stroke="#f35500" d="M24.5 59v1M27.5 60v1M27.5 62v1M28.5 55v1M28.5 61v2M29.5 57v1M30.5 57v1M30.5 59v1M30.5 62v1M31.5 32v1M31.5 59v1M31.5 61v1M32.5 52v1"/>
<path stroke="#f65c00" d="M26.5 60v1M28.5 56v1M30.5 54v2M30.5 64v1"/>
<path stroke="#ed4f00" d="M28.5 60v1M29.5 60v2M29.5 63v1M30.5 60v2M31.5 54v1M31.5 64v1"/>
<path stroke="#df4800" d="M30.5 56v1M31.5 56v2M31.5 63v1M32.5 54v2"/>
<path stroke="#d14200" d="M31.5 58v1M31.5 60v1M31.5 62v1M32.5 57v1"/>
<path stroke="#be3b01" d="M32.5 56v1"/>
</g></g>
<polyline points="400.9,133.2 404.6,133.0 408.3,132.6 412.0,132.2 415.7,131.8 419.3,131.3 423.0,130.7 426.7,130.1 430.4,129.4 434.1,128.7 437.8,127.9 441.5,127.0 445.2,126.1 448.9,125.2 452.6,124.2 456.2,123.1 459.9,122.0 463.6,120.8 467.3,119.6 471.0,118.4 474.7,117.1 478.4,115.7 482.1,114.3 485.8,112.8 489.5,111.3 493.1,109.8 496.8,108.2 500.5,106.5 504.2,104.9 507.9,103.1 511.6,101.4 515.3,99.5 519.0,97.7 522.7,95.8 526.4,93.9 530.0,91.9 533.7,89.9 537.4,87.8 541.1,85.7 544.8,83.6" fill="none" stroke="#000" stroke-width="2.1"/>
</g>
<rect x="400.9" y="12.4" width="143.90" height="141.90" fill="none" stroke="#585858" stroke-width="0.9"/>
<path d="M404.9 154.3v-1.6M404.9 12.4v1.6M447.4 154.3v-1.6M447.4 12.4v1.6M490.0 154.3v-1.6M490.0 12.4v1.6M532.5 154.3v-1.6M532.5 12.4v1.6M400.9 154.3h1.6M544.8 154.3h-1.6M400.9 122.0h1.6M544.8 122.0h-1.6M400.9 89.7h1.6M544.8 89.7h-1.6M400.9 57.4h1.6M544.8 57.4h-1.6M400.9 25.1h1.6M544.8 25.1h-1.6" stroke="#585858" stroke-width="0.8" fill="none"/>
<text transform="translate(404.9,166.3) scale(1.08,1)" font-size="9.0" text-anchor="middle">0</text>
<text transform="translate(447.4,166.3) scale(1.08,1)" font-size="9.0" text-anchor="middle">10</text>
<text transform="translate(490.0,166.3) scale(1.08,1)" font-size="9.0" text-anchor="middle">20</text>
<text transform="translate(532.5,166.3) scale(1.08,1)" font-size="9.0" text-anchor="middle">30</text>
<text transform="translate(398.3,158.2) scale(1.08,1)" font-size="9.0" text-anchor="end">0</text>
<text transform="translate(398.3,125.9) scale(1.08,1)" font-size="9.0" text-anchor="end">20</text>
<text transform="translate(398.3,93.6) scale(1.08,1)" font-size="9.0" text-anchor="end">40</text>
<text transform="translate(398.3,61.3) scale(1.08,1)" font-size="9.0" text-anchor="end">60</text>
<text transform="translate(398.3,29.0) scale(1.08,1)" font-size="9.0" text-anchor="end">80</text>
<text x="472.9" y="176.9" font-size="10.8" text-anchor="middle">Sea surface temperature (°C)</text>
<text transform="translate(384.0,83.9) rotate(-90)" font-size="11.05" text-anchor="middle">Column water vapor (kg/m<tspan font-size="8.1" dy="-3.6">2</tspan><tspan dy="3.6">)</tspan></text>
<text x="464.2" y="10.0" font-size="9.4" font-weight="bold" text-anchor="middle" fill="#000">(c) 1800&lt;Hv≤2300 m</text>
<linearGradient id="gc" x1="0" x2="1" y1="0" y2="0"><stop offset="0.000" stop-color="#4800a0"/><stop offset="0.060" stop-color="#6e00d7"/><stop offset="0.123" stop-color="#9600ff"/><stop offset="0.170" stop-color="#4600ff"/><stop offset="0.210" stop-color="#0000ff"/><stop offset="0.260" stop-color="#0023ff"/><stop offset="0.310" stop-color="#005fff"/><stop offset="0.380" stop-color="#00aaff"/><stop offset="0.435" stop-color="#00ffff"/><stop offset="0.500" stop-color="#00ff96"/><stop offset="0.600" stop-color="#00ff00"/><stop offset="0.673" stop-color="#aaff00"/><stop offset="0.720" stop-color="#ffff00"/><stop offset="0.800" stop-color="#ffbe00"/><stop offset="0.880" stop-color="#ff6e00"/><stop offset="0.935" stop-color="#f05000"/><stop offset="0.970" stop-color="#c83e00"/><stop offset="1.000" stop-color="#8c2d05"/></linearGradient>
<rect x="403.7" y="184.1" width="139.40" height="8.20" fill="url(#gc)" stroke="#585858" stroke-width="0.6"/>
<text x="411.6" y="203.5" font-size="8.6" text-anchor="middle">0</text>
<text x="437.4" y="203.5" font-size="8.6" text-anchor="middle">5</text>
<text x="463.1" y="203.5" font-size="8.6" text-anchor="middle">10</text>
<text x="488.9" y="203.5" font-size="8.6" text-anchor="middle">15</text>
<text x="514.6" y="203.5" font-size="8.6" text-anchor="middle">20</text>
<text x="540.4" y="203.5" font-size="8.6" text-anchor="middle">25</text>
<path d="M411.6 192.3v-1.4M437.4 192.3v-1.4M463.1 192.3v-1.4M488.9 192.3v-1.4M514.6 192.3v-1.4M540.4 192.3v-1.4" stroke="#585858" stroke-width="0.7" fill="none"/>
<clipPath id="cld"><rect x="30.5" y="223.2" width="141.30" height="136.10"/></clipPath>
<g clip-path="url(#cld)"><g filter="url(#bl)"><g transform="translate(34.2,359.3) scale(4.167,-1.551)" shape-rendering="crispEdges" fill="none" stroke-width="1">
<path stroke="#7f00e8" d="M-0.5 2v1M-0.5 4v1M0.5 3v2M1.5 3v2M2.5 4v1M3.5 3v2M4.5 4v1M5.5 4v1M6.5 4v2M7.5 3v1M8.5 3v1M9.5 3v2"/>
<path stroke="#7800e1" d="M-0.5 3v1M0.5 2v1M1.5 2v1M2.5 2v2M3.5 2v1M4.5 3v1M5.5 3v1M6.5 3v1"/>
<path stroke="#8700f0" d="M-0.5 5v2M0.5 5v1M1.5 5v1M2.5 5v1M3.5 5v1M4.5 5v2M5.5 5v1M7.5 4v3M8.5 4v3M9.5 5v1M10.5 3v2M11.5 3v2M12.5 3v1M17.5 4v1M18.5 5v2M19.5 4v2"/>
<path stroke="#8f00f8" d="M-0.5 7v1M0.5 6v2M1.5 6v1M2.5 6v2M3.5 6v2M4.5 7v1M5.5 6v1M6.5 6v2M9.5 6v1M10.5 5v1M10.5 7v1M11.5 5v1M12.5 4v2M13.5 3v2M14.5 4v1M15.5 5v1M16.5 4v2M17.5 5v2M18.5 4v1M19.5 6v2M20.5 5v2M21.5 7v1"/>
<path stroke="#9300ff" d="M-0.5 8v1M0.5 8v1M1.5 7v2M2.5 8v1M3.5 8v1M4.5 9v1M5.5 7v2M6.5 8v1M7.5 7v2M8.5 7v2M9.5 7v2M10.5 6v1M11.5 6v1M12.5 6v1M13.5 5v2M14.5 5v2M15.5 4v1M15.5 6v1M17.5 7v2M18.5 7v1M19.5 8v1M20.5 7v1M21.5 6v1M22.5 7v1"/>
<path stroke="#7d00ff" d="M-0.5 9v1M0.5 9v1M1.5 9v1M2.5 9v1M3.5 9v1M4.5 8v1M5.5 10v1M6.5 9v1M7.5 9v3M8.5 9v1M10.5 8v2M11.5 7v3M12.5 7v3M13.5 7v1M14.5 7v1M15.5 8v1M16.5 6v1M18.5 8v2M19.5 9v1M21.5 8v1"/>
<path stroke="#6800ff" d="M-0.5 10v1M0.5 10v1M1.5 10v1M2.5 10v1M3.5 10v2M4.5 10v1M5.5 9v1M5.5 11v1M6.5 10v2M8.5 10v2M9.5 9v2M12.5 10v1M13.5 8v1M14.5 8v1M15.5 7v1M16.5 7v2M17.5 9v1M20.5 8v2M22.5 8v1M23.5 8v1"/>
<path stroke="#3d00ff" d="M-0.5 11v1M0.5 11v2M1.5 11v2M2.5 12v1M3.5 13v2M4.5 13v2M5.5 14v1M6.5 13v2M8.5 13v2M9.5 13v2M10.5 12v2M11.5 12v1M12.5 12v1M13.5 11v1M14.5 11v1M15.5 10v1M18.5 11v1M19.5 11v1M20.5 11v1M22.5 10v2M24.5 11v1M25.5 11v2M26.5 11v2"/>
<path stroke="#2700ff" d="M-0.5 12v2M0.5 13v1M1.5 13v1M1.5 15v1M2.5 13v2M3.5 15v1M4.5 15v1M5.5 15v1M6.5 15v1M7.5 14v2M8.5 15v1M9.5 15v2M10.5 14v1M11.5 13v1M12.5 13v1M13.5 12v2M14.5 12v1M15.5 11v1M16.5 11v2M17.5 11v3M18.5 12v2M19.5 12v1M21.5 11v2M23.5 11v1M24.5 12v1M25.5 13v1"/>
<path stroke="#1100ff" d="M-0.5 14v2M0.5 14v2M1.5 14v1M1.5 16v1M2.5 15v2M3.5 16v1M4.5 16v2M5.5 16v2M6.5 16v1M7.5 16v1M8.5 16v1M10.5 15v1M11.5 14v3M12.5 14v1M13.5 14v2M14.5 13v2M15.5 12v1M16.5 13v1M17.5 14v2M18.5 14v2M19.5 13v3M20.5 12v1M22.5 12v1M23.5 12v1M24.5 13v1M26.5 13v2M27.5 12v1"/>
<path stroke="#0002ff" d="M-0.5 16v1M0.5 16v2M2.5 17v1M3.5 17v2M5.5 18v1M6.5 17v2M7.5 17v2M8.5 17v2M9.5 17v1M10.5 16v2M12.5 15v2M13.5 16v1M14.5 15v1M15.5 13v2M15.5 16v1M16.5 14v2M17.5 16v1M18.5 16v1M20.5 13v3M21.5 13v1M23.5 13v2M24.5 14v2M25.5 14v2M26.5 15v1M27.5 13v3M28.5 13v2"/>
<path stroke="#000bff" d="M-0.5 17v2M0.5 18v1M1.5 17v2M2.5 18v3M3.5 19v2M4.5 18v3M5.5 19v1M6.5 19v1M7.5 19v2M8.5 19v2M9.5 18v2M10.5 18v2M11.5 17v1M11.5 19v1M12.5 17v2M13.5 17v1M14.5 16v1M15.5 15v1M15.5 17v1M16.5 16v3M17.5 17v3M18.5 17v2M19.5 16v2M20.5 16v1M21.5 14v3M22.5 13v2M23.5 15v2M26.5 16v1M27.5 16v1M28.5 15v2M29.5 15v1"/>
<path stroke="#0013ff" d="M-0.5 19v1M-0.5 21v1M0.5 19v3M1.5 19v2M4.5 21v1M5.5 20v1M6.5 20v3M7.5 21v2M8.5 21v2M9.5 20v2M11.5 18v1M12.5 19v2M13.5 18v2M14.5 17v2M15.5 18v1M16.5 19v1M17.5 20v1M18.5 19v2M19.5 18v3M20.5 17v3M21.5 18v1M22.5 15v3M24.5 16v2M25.5 16v3M26.5 17v2M27.5 17v2M28.5 17v2M29.5 16v2"/>
<path stroke="#001cff" d="M-0.5 20v1M-0.5 22v2M1.5 21v1M2.5 21v2M3.5 21v1M4.5 22v1M5.5 21v2M6.5 23v1M8.5 23v1M9.5 22v2M10.5 20v3M11.5 20v3M12.5 21v1M13.5 20v2M14.5 19v2M14.5 22v1M15.5 19v2M16.5 20v1M16.5 22v1M17.5 21v2M18.5 21v2M19.5 21v1M20.5 20v1M21.5 17v1M21.5 19v3M22.5 18v2M23.5 17v3M24.5 18v2M25.5 19v2M26.5 19v1M27.5 19v1M28.5 19v1M29.5 18v2M30.5 16v1"/>
<path stroke="#0035ff" d="M-0.5 24v1M0.5 24v1M2.5 24v1M4.5 23v2M5.5 24v1M6.5 24v1M7.5 24v2M8.5 25v1M9.5 25v1M10.5 24v2M11.5 24v2M12.5 23v1M12.5 25v1M13.5 24v2M14.5 25v1M15.5 22v1M15.5 24v1M16.5 23v1M17.5 24v1M18.5 24v1M19.5 23v2M20.5 25v1M21.5 22v3M22.5 22v2M23.5 22v2M24.5 22v1M25.5 22v1M26.5 21v1M27.5 22v2M28.5 21v2M29.5 20v1M29.5 23v1M30.5 17v2"/>
<path stroke="#0053ff" d="M-0.5 25v2M0.5 25v1M1.5 26v1M3.5 25v1M4.5 26v1M5.5 26v1M6.5 26v1M8.5 26v1M9.5 27v1M10.5 27v1M11.5 26v1M12.5 27v1M13.5 26v2M14.5 27v1M15.5 26v1M16.5 26v1M17.5 26v1M18.5 26v2M19.5 26v1M20.5 26v1M22.5 26v1M23.5 26v1M24.5 24v1M25.5 24v2M26.5 24v1M27.5 24v2M29.5 25v1M30.5 23v2"/>
<path stroke="#006fff" d="M-0.5 27v1M0.5 27v1M0.5 29v2M1.5 27v2M2.5 27v1M4.5 27v2M5.5 27v1M6.5 27v1M7.5 27v2M8.5 29v1M10.5 28v1M11.5 28v1M12.5 29v1M13.5 29v1M14.5 28v1M15.5 27v1M16.5 27v1M17.5 27v2M20.5 27v1M21.5 27v1M23.5 27v1M24.5 27v1M25.5 27v1M26.5 26v2M27.5 26v2M28.5 26v1"/>
<path stroke="#0026ff" d="M0.5 22v2M1.5 22v2M2.5 23v1M3.5 22v2M5.5 23v1M7.5 23v1M8.5 24v1M9.5 24v1M10.5 23v1M11.5 23v1M12.5 22v1M12.5 24v1M13.5 22v2M14.5 21v1M14.5 23v1M15.5 21v1M15.5 23v1M16.5 21v1M17.5 23v1M18.5 23v1M19.5 22v1M20.5 21v4M22.5 20v2M23.5 20v2M24.5 20v2M25.5 21v1M26.5 20v1M27.5 20v2M28.5 20v1M29.5 21v2"/>
<path stroke="#0062ff" d="M0.5 26v1M0.5 28v1M2.5 26v1M3.5 26v1M8.5 27v2M9.5 28v1M12.5 28v1M13.5 28v1M19.5 27v1M21.5 26v1M24.5 26v1M25.5 26v1M26.5 25v1M29.5 26v1M30.5 25v1"/>
<path stroke="#007cff" d="M0.5 31v1M1.5 29v3M2.5 28v1M3.5 27v1M5.5 28v1M6.5 28v1M9.5 29v1M11.5 29v1M14.5 29v1M15.5 28v1M16.5 28v2M18.5 28v2M19.5 28v1M20.5 28v1M21.5 28v1M22.5 27v1M26.5 28v1M28.5 27v1M30.5 26v1M31.5 21v4"/>
<path stroke="#0044ff" d="M1.5 24v2M2.5 25v1M3.5 24v1M4.5 25v1M5.5 25v1M6.5 25v1M7.5 26v1M9.5 26v1M10.5 26v1M11.5 27v1M12.5 26v1M14.5 24v1M14.5 26v1M15.5 25v1M16.5 24v2M17.5 25v1M18.5 25v1M19.5 25v1M21.5 25v1M22.5 24v2M23.5 24v2M24.5 23v1M24.5 25v1M25.5 23v1M26.5 22v2M28.5 23v3M29.5 24v1M30.5 19v4"/>
<path stroke="#008aff" d="M1.5 32v2M2.5 29v2M3.5 28v1M3.5 30v1M5.5 29v1M6.5 29v1M7.5 29v1M8.5 30v1M9.5 30v1M10.5 29v2M11.5 30v1M12.5 30v1M13.5 30v1M14.5 30v1M15.5 29v2M16.5 30v1M17.5 29v2M19.5 29v1M22.5 28v1M23.5 28v1M24.5 28v1M25.5 28v1M27.5 28v1M28.5 28v1M29.5 27v1M30.5 27v1M31.5 25v2"/>
<path stroke="#0097ff" d="M1.5 34v1M2.5 32v1M3.5 29v1M4.5 29v1M7.5 30v1M9.5 31v1M10.5 31v1M11.5 31v1M12.5 31v1M13.5 31v1M14.5 31v1M15.5 31v1M16.5 31v1M18.5 30v1M20.5 29v1M23.5 29v1M24.5 29v1M25.5 29v1M27.5 29v1M29.5 28v1M30.5 28v1M31.5 27v1"/>
<path stroke="#00a5ff" d="M1.5 35v1M2.5 31v1M3.5 31v1M4.5 30v1M5.5 30v1M6.5 30v1M8.5 31v1M10.5 32v1M12.5 32v1M13.5 32v1M14.5 32v1M15.5 32v1M17.5 31v1M18.5 31v1M19.5 30v1M20.5 30v1M21.5 29v1M22.5 29v1M24.5 30v1M25.5 30v1M26.5 29v2M28.5 29v1M29.5 29v1M31.5 28v1"/>
<path stroke="#5300ff" d="M2.5 11v1M3.5 12v1M4.5 11v2M5.5 12v2M6.5 12v1M7.5 12v2M8.5 12v1M9.5 11v2M10.5 10v2M11.5 10v2M12.5 11v1M13.5 9v2M14.5 9v2M15.5 9v1M16.5 9v2M17.5 10v1M18.5 10v1M19.5 10v1M20.5 10v1M21.5 9v2M22.5 9v1M23.5 9v2M24.5 9v2M25.5 10v1"/>
<path stroke="#00b6ff" d="M2.5 33v1M4.5 31v1M5.5 31v1M6.5 31v1M7.5 31v1M8.5 32v1M9.5 32v1M11.5 33v1M15.5 33v1M16.5 32v1M19.5 31v1M20.5 31v1M21.5 30v1M22.5 30v1M23.5 30v1M27.5 30v1M30.5 29v1M31.5 29v1M32.5 30v1"/>
<path stroke="#00c9ff" d="M2.5 34v2M3.5 32v2M7.5 32v1M9.5 33v1M11.5 32v1M12.5 33v1M13.5 33v1M14.5 33v1M15.5 34v1M16.5 33v1M17.5 32v2M18.5 32v2M19.5 32v2M21.5 31v2M22.5 31v1M23.5 31v1M24.5 31v2M25.5 31v2M26.5 31v1M27.5 31v1M28.5 30v1M29.5 31v1M30.5 30v1M31.5 30v2M32.5 31v1"/>
<path stroke="#00dcff" d="M2.5 36v2M3.5 34v1M4.5 32v1M5.5 32v1M6.5 33v1M8.5 33v1M10.5 33v2M13.5 34v1M14.5 34v1M16.5 34v1M17.5 34v1M20.5 32v1M22.5 32v1M23.5 32v1M28.5 31v1M29.5 30v1M30.5 31v1M31.5 32v1M32.5 32v1"/>
<path stroke="#00fffb" d="M2.5 38v1M3.5 35v2M4.5 34v1M5.5 34v2M6.5 35v1M7.5 34v2M8.5 35v1M9.5 35v1M10.5 35v1M11.5 34v2M12.5 35v1M13.5 35v1M14.5 35v2M16.5 36v1M17.5 35v1M18.5 34v2M19.5 34v1M20.5 34v2M21.5 34v1M23.5 33v1M24.5 33v2M24.5 36v1M25.5 34v1M26.5 34v1M27.5 33v3M29.5 32v1M30.5 32v1M31.5 33v1"/>
<path stroke="#00ffd3" d="M3.5 37v1M4.5 36v1M5.5 36v1M6.5 36v1M7.5 37v1M8.5 37v1M10.5 36v1M17.5 36v1M19.5 36v1M20.5 37v1M21.5 36v2M22.5 35v3M25.5 37v1M27.5 36v1M29.5 35v1M30.5 34v2M32.5 34v1"/>
<path stroke="#00ffaa" d="M3.5 38v1M7.5 38v1M8.5 38v1M9.5 37v1M11.5 37v1M14.5 38v1M17.5 38v1M19.5 38v1M22.5 38v1M23.5 38v1M25.5 38v1M26.5 39v1M27.5 37v2M28.5 37v1M29.5 37v1M32.5 35v1"/>
<path stroke="#00ff83" d="M3.5 39v1M3.5 41v1M4.5 39v1M5.5 39v1M9.5 39v1M10.5 38v2M12.5 38v1M13.5 38v2M14.5 39v1M15.5 39v2M16.5 39v2M17.5 39v1M18.5 38v2M19.5 39v1M23.5 40v1M24.5 40v2M26.5 40v1M27.5 40v1M28.5 39v1M30.5 38v1M31.5 37v1"/>
<path stroke="#00ff96" d="M3.5 40v1M4.5 38v1M5.5 38v1M6.5 38v2M7.5 39v1M8.5 39v1M9.5 38v1M11.5 38v1M20.5 38v2M21.5 38v2M22.5 39v1M23.5 39v1M24.5 39v1M25.5 39v2M27.5 39v1M28.5 38v1M30.5 37v1M31.5 36v1M32.5 36v1"/>
<path stroke="#00ff70" d="M3.5 42v1M4.5 40v1M5.5 40v1M7.5 40v1M11.5 39v1M12.5 39v1M14.5 40v2M17.5 40v1M20.5 40v1M21.5 40v2M22.5 40v2M23.5 41v1M25.5 42v1M26.5 41v1M29.5 38v2M30.5 39v1"/>
<path stroke="#00f0ff" d="M4.5 33v1M5.5 33v1M6.5 32v1M6.5 34v1M7.5 33v1M8.5 34v1M9.5 34v1M12.5 34v1M15.5 35v2M16.5 35v1M20.5 33v1M21.5 33v1M22.5 33v2M25.5 33v1M26.5 32v2M27.5 32v1M28.5 32v2M32.5 33v1"/>
<path stroke="#00ffe7" d="M4.5 35v1M7.5 36v1M8.5 36v1M12.5 36v1M13.5 36v1M15.5 37v1M19.5 35v1M20.5 36v1M21.5 35v1M23.5 34v3M24.5 35v1M25.5 35v1M26.5 35v2M28.5 34v2M29.5 33v2M30.5 33v1M31.5 34v1"/>
<path stroke="#00ffbe" d="M4.5 37v1M5.5 37v1M6.5 37v1M9.5 36v1M10.5 37v1M11.5 36v1M12.5 37v1M13.5 37v1M14.5 37v1M15.5 38v1M16.5 37v2M17.5 37v1M18.5 36v2M19.5 37v1M23.5 37v1M24.5 37v2M25.5 36v1M26.5 37v2M28.5 36v1M29.5 36v1M30.5 36v1M31.5 35v1"/>
<path stroke="#00ff4b" d="M4.5 41v1M5.5 41v2M6.5 41v1M7.5 41v1M8.5 41v2M9.5 41v1M12.5 40v2M13.5 40v1M16.5 41v1M17.5 41v1M18.5 41v1M19.5 42v1M20.5 41v2M22.5 42v1M23.5 42v1M24.5 42v2M25.5 43v1M26.5 42v1M27.5 42v2M28.5 40v3M29.5 41v1M30.5 40v1M31.5 39v1M31.5 41v1M32.5 38v1"/>
<path stroke="#00ff5e" d="M4.5 42v1M6.5 40v1M8.5 40v1M9.5 40v1M10.5 40v2M13.5 41v1M15.5 41v1M18.5 40v1M19.5 40v2M21.5 43v1M25.5 41v1M27.5 41v1M29.5 40v1M31.5 38v1M31.5 40v1M32.5 37v1"/>
<path stroke="#00ff38" d="M4.5 43v2M5.5 43v1M6.5 42v1M7.5 42v1M9.5 42v1M10.5 42v2M11.5 40v2M12.5 42v1M13.5 42v2M14.5 42v2M15.5 42v2M16.5 42v1M17.5 42v1M18.5 42v1M19.5 43v1M20.5 43v1M21.5 42v1M22.5 43v1M23.5 43v1M25.5 44v2M26.5 43v1M28.5 43v1M29.5 42v1M30.5 41v1M32.5 40v1"/>
<path stroke="#00ff26" d="M5.5 44v2M6.5 43v2M6.5 46v1M7.5 43v1M8.5 43v1M9.5 43v1M11.5 42v1M12.5 43v1M16.5 43v1M17.5 43v1M18.5 43v1M20.5 44v1M21.5 44v2M22.5 44v1M23.5 44v1M24.5 44v2M26.5 44v2M27.5 44v1M30.5 42v1M32.5 39v1"/>
<path stroke="#00ff13" d="M5.5 46v1M6.5 45v1M7.5 44v1M10.5 44v1M11.5 43v1M11.5 45v1M13.5 44v1M14.5 44v1M15.5 44v1M16.5 44v1M17.5 44v1M18.5 44v1M23.5 45v1M26.5 46v1M27.5 45v1M28.5 44v2M29.5 43v2M31.5 42v1M32.5 41v2"/>
<path stroke="#00ff00" d="M6.5 47v1M7.5 45v3M8.5 44v2M9.5 44v2M11.5 44v1M12.5 44v2M13.5 45v1M14.5 45v1M15.5 45v1M16.5 45v1M18.5 45v1M19.5 44v2M20.5 45v1M22.5 45v2M23.5 46v1M24.5 46v1M25.5 46v2M29.5 45v2M30.5 43v3M31.5 43v2M32.5 43v1"/>
<path stroke="#1dff00" d="M7.5 48v1M10.5 45v2M11.5 46v1M12.5 46v1M13.5 47v1M15.5 46v1M16.5 46v1M17.5 45v1M18.5 46v1M19.5 48v1M21.5 46v1M24.5 48v1M26.5 47v2M27.5 46v3M28.5 46v2M29.5 47v1M31.5 45v2M32.5 44v2"/>
<path stroke="#3aff00" d="M8.5 46v4M9.5 46v1M9.5 48v1M9.5 51v1M10.5 47v2M11.5 47v1M12.5 47v1M13.5 46v1M14.5 46v2M15.5 47v1M16.5 47v1M17.5 47v1M19.5 46v2M20.5 46v2M21.5 47v1M22.5 47v1M23.5 47v2M24.5 47v1M25.5 48v1M28.5 48v1M29.5 48v2M30.5 46v1"/>
<path stroke="#57ff00" d="M9.5 47v1M9.5 49v2M10.5 49v2M10.5 52v1M11.5 48v2M12.5 49v1M15.5 48v1M17.5 46v1M18.5 47v2M20.5 48v1M21.5 48v2M22.5 48v1M23.5 49v1M25.5 49v1M26.5 49v1M27.5 49v2M28.5 49v1M30.5 47v2M31.5 47v1M32.5 46v1"/>
<path stroke="#74ff00" d="M10.5 51v1M12.5 48v1M13.5 48v1M15.5 49v1M16.5 48v1M16.5 50v1M17.5 48v1M22.5 49v1M24.5 49v1M25.5 50v1M28.5 50v1M29.5 50v1M30.5 50v1M31.5 48v1M32.5 47v2"/>
<path stroke="#92ff00" d="M11.5 50v3M11.5 54v1M13.5 49v1M13.5 51v1M14.5 48v4M15.5 50v1M16.5 49v1M17.5 49v1M18.5 49v1M19.5 49v1M22.5 50v1M24.5 50v1M26.5 50v1M28.5 51v1M30.5 49v1M30.5 51v1M31.5 49v1M32.5 49v1"/>
<path stroke="#dbff00" d="M11.5 53v1M13.5 54v2M14.5 52v1M15.5 54v1M16.5 54v1M17.5 52v1M18.5 51v1M19.5 52v1M20.5 51v3M21.5 52v1M21.5 54v1M22.5 53v2M23.5 52v3M24.5 53v3M25.5 52v1M25.5 54v1M26.5 55v1M27.5 54v3M28.5 54v1M29.5 57v1M30.5 53v2M31.5 53v1M32.5 52v1"/>
<path stroke="#aeff00" d="M12.5 50v4M13.5 50v1M14.5 53v1M15.5 51v1M15.5 53v1M18.5 50v1M19.5 50v1M21.5 50v1M23.5 50v2M25.5 51v1M26.5 51v1M27.5 51v1M27.5 53v1M28.5 52v2M29.5 51v2M30.5 52v1M31.5 52v1"/>
<path stroke="#c4ff00" d="M12.5 54v1M13.5 52v2M14.5 54v2M15.5 52v1M16.5 51v3M17.5 50v2M20.5 49v2M21.5 51v1M22.5 51v2M24.5 51v2M25.5 53v1M26.5 52v2M27.5 52v1M29.5 53v2M30.5 55v1M31.5 50v2M32.5 50v2"/>
<path stroke="#f1ff00" d="M14.5 56v2M15.5 55v2M16.5 55v4M17.5 54v2M18.5 52v1M18.5 54v1M19.5 51v1M19.5 53v2M20.5 54v1M21.5 53v1M25.5 55v3M26.5 54v1M26.5 58v1M28.5 56v1M29.5 56v1M30.5 56v1M31.5 54v2M32.5 53v3M32.5 57v1M32.5 62v1"/>
<path stroke="#fffb00" d="M15.5 57v2M16.5 59v1M17.5 53v1M17.5 56v2M18.5 53v1M18.5 55v2M19.5 55v3M20.5 55v2M21.5 55v2M21.5 58v1M22.5 55v2M23.5 55v3M23.5 59v1M24.5 56v3M25.5 58v1M26.5 56v2M27.5 58v1M28.5 55v1M28.5 58v2M29.5 55v1M30.5 57v1M31.5 57v2M32.5 56v1M32.5 61v1"/>
<path stroke="#ffe700" d="M16.5 60v1M17.5 58v3M18.5 59v2M19.5 58v1M19.5 60v1M20.5 61v1M21.5 60v1M24.5 60v1M28.5 60v1M30.5 59v1M31.5 59v1M31.5 62v2"/>
<path stroke="#ffd200" d="M17.5 61v1M18.5 61v1M19.5 61v1M20.5 60v1M20.5 63v2M21.5 62v1M22.5 61v1M23.5 61v1M25.5 61v1M26.5 61v1M27.5 62v1M28.5 61v1M29.5 60v1M30.5 61v1M31.5 66v1M31.5 68v1"/>
<path stroke="#fff100" d="M18.5 57v1M20.5 57v3M21.5 57v1M21.5 59v1M22.5 57v3M23.5 58v1M24.5 59v1M25.5 59v1M26.5 59v1M27.5 57v1M27.5 59v1M28.5 57v1M29.5 58v1M30.5 58v1M31.5 56v1M31.5 60v2M32.5 58v3"/>
<path stroke="#ffdc00" d="M18.5 58v1M18.5 62v1M19.5 59v1M19.5 62v1M21.5 61v1M22.5 60v1M23.5 60v1M23.5 62v1M24.5 61v1M25.5 60v1M26.5 60v1M27.5 60v2M29.5 59v1M30.5 60v1M31.5 64v2"/>
<path stroke="#ffc800" d="M19.5 63v1M20.5 62v1M20.5 65v1M21.5 63v1M22.5 62v2M24.5 62v1M25.5 62v1M26.5 62v2M28.5 62v1M29.5 61v1M30.5 62v1M31.5 67v1M31.5 69v1M31.5 71v2"/>
<path stroke="#ffb200" d="M21.5 64v2M23.5 63v1M24.5 63v2M25.5 63v2M27.5 63v1M31.5 73v2"/>
<path stroke="#ff9800" d="M21.5 66v1M22.5 65v3M23.5 68v1M24.5 65v1M26.5 64v2M28.5 64v1M29.5 64v1M30.5 65v1M30.5 67v1"/>
<path stroke="#ffbe00" d="M22.5 64v1M29.5 62v1M30.5 63v2M31.5 70v1M31.5 75v2"/>
<path stroke="#ff7f00" d="M22.5 68v1M23.5 67v1M24.5 67v1M24.5 71v1M25.5 69v1M26.5 68v1M27.5 65v1M27.5 67v1M28.5 65v3M29.5 66v1M30.5 69v1M30.5 72v1"/>
<path stroke="#ffa500" d="M23.5 64v1M27.5 64v1M28.5 63v1M29.5 63v1"/>
<path stroke="#ff8c00" d="M23.5 65v2M24.5 66v1M24.5 68v1M25.5 65v3M26.5 66v1M27.5 66v1M29.5 65v1M30.5 66v1M30.5 68v1"/>
<path stroke="#fd6a00" d="M23.5 69v1M25.5 70v2M26.5 71v1M27.5 69v1M28.5 68v1M29.5 67v1M30.5 71v1M30.5 73v3"/>
<path stroke="#ff7300" d="M24.5 69v2M25.5 68v1M26.5 67v1M30.5 77v1"/>
<path stroke="#f65c00" d="M25.5 72v1M26.5 72v3M27.5 73v2M28.5 69v2M29.5 70v1"/>
<path stroke="#fa6300" d="M26.5 69v2M27.5 68v1M27.5 70v1M28.5 71v1M29.5 68v2M30.5 70v1M30.5 76v1"/>
<path stroke="#f35500" d="M27.5 71v2M27.5 75v1M28.5 72v1M28.5 74v3M29.5 73v1M29.5 76v2"/>
<path stroke="#ed4f00" d="M28.5 73v1M29.5 71v2M29.5 74v2"/>
</g></g>
<polyline points="30.5,337.2 34.1,336.8 37.7,336.4 41.4,335.8 45.0,335.2 48.6,334.5 52.2,333.7 55.9,332.9 59.5,332.0 63.1,331.0 66.7,329.9 70.4,328.8 74.0,327.7 77.6,326.4 81.2,325.2 84.8,323.8 88.5,322.4 92.1,320.9 95.7,319.4 99.3,317.8 103.0,316.2 106.6,314.5 110.2,312.8 113.8,311.0 117.5,309.2 121.1,307.3 124.7,305.4 128.3,303.4 131.9,301.4 135.6,299.3 139.2,297.2 142.8,295.0 146.4,292.9 150.1,290.6 153.7,288.4 157.3,286.1 160.9,283.7 164.6,281.4 168.2,279.0 171.8,276.5" fill="none" stroke="#000" stroke-width="2.1"/>
</g>
<rect x="30.5" y="223.2" width="141.30" height="136.10" fill="none" stroke="#585858" stroke-width="0.9"/>
<path d="M34.2 359.3v-1.6M34.2 223.2v1.6M75.9 359.3v-1.6M75.9 223.2v1.6M117.5 359.3v-1.6M117.5 223.2v1.6M159.2 359.3v-1.6M159.2 223.2v1.6M30.5 359.3h1.6M171.8 359.3h-1.6M30.5 328.3h1.6M171.8 328.3h-1.6M30.5 297.3h1.6M171.8 297.3h-1.6M30.5 266.2h1.6M171.8 266.2h-1.6M30.5 235.2h1.6M171.8 235.2h-1.6" stroke="#585858" stroke-width="0.8" fill="none"/>
<text transform="translate(34.2,371.7) scale(1.08,1)" font-size="9.0" text-anchor="middle">0</text>
<text transform="translate(75.9,371.7) scale(1.08,1)" font-size="9.0" text-anchor="middle">10</text>
<text transform="translate(117.5,371.7) scale(1.08,1)" font-size="9.0" text-anchor="middle">20</text>
<text transform="translate(159.2,371.7) scale(1.08,1)" font-size="9.0" text-anchor="middle">30</text>
<text transform="translate(27.9,363.2) scale(1.08,1)" font-size="9.0" text-anchor="end">0</text>
<text transform="translate(27.9,332.2) scale(1.08,1)" font-size="9.0" text-anchor="end">20</text>
<text transform="translate(27.9,301.2) scale(1.08,1)" font-size="9.0" text-anchor="end">40</text>
<text transform="translate(27.9,270.1) scale(1.08,1)" font-size="9.0" text-anchor="end">60</text>
<text transform="translate(27.9,239.1) scale(1.08,1)" font-size="9.0" text-anchor="end">80</text>
<text x="100.2" y="380.7" font-size="10.8" text-anchor="middle">Sea surface temperature (°C)</text>
<text transform="translate(13.6,291.6) rotate(-90)" font-size="11.05" text-anchor="middle">Column water vapor (kg/m<tspan font-size="8.1" dy="-3.6">2</tspan><tspan dy="3.6">)</tspan></text>
<text x="102.0" y="221.4" font-size="9.4" font-weight="bold" text-anchor="middle" fill="#000">(d) 2300&lt;Hv≤2800 m</text>
<linearGradient id="gd" x1="0" x2="1" y1="0" y2="0"><stop offset="0.000" stop-color="#4800a0"/><stop offset="0.060" stop-color="#6e00d7"/><stop offset="0.123" stop-color="#9600ff"/><stop offset="0.170" stop-color="#4600ff"/><stop offset="0.210" stop-color="#0000ff"/><stop offset="0.260" stop-color="#0023ff"/><stop offset="0.310" stop-color="#005fff"/><stop offset="0.380" stop-color="#00aaff"/><stop offset="0.435" stop-color="#00ffff"/><stop offset="0.500" stop-color="#00ff96"/><stop offset="0.600" stop-color="#00ff00"/><stop offset="0.673" stop-color="#aaff00"/><stop offset="0.720" stop-color="#ffff00"/><stop offset="0.800" stop-color="#ffbe00"/><stop offset="0.880" stop-color="#ff6e00"/><stop offset="0.935" stop-color="#f05000"/><stop offset="0.970" stop-color="#c83e00"/><stop offset="1.000" stop-color="#8c2d05"/></linearGradient>
<rect x="29.6" y="388.7" width="140.80" height="7.30" fill="url(#gd)" stroke="#585858" stroke-width="0.6"/>
<text x="29.9" y="407.6" font-size="8.6" text-anchor="middle">0</text>
<text x="58.0" y="407.6" font-size="8.6" text-anchor="middle">5</text>
<text x="86.1" y="407.6" font-size="8.6" text-anchor="middle">10</text>
<text x="114.2" y="407.6" font-size="8.6" text-anchor="middle">15</text>
<text x="142.3" y="407.6" font-size="8.6" text-anchor="middle">20</text>
<text x="170.4" y="407.6" font-size="8.6" text-anchor="middle">25</text>
<path d="M58.0 396.0v-1.4M86.1 396.0v-1.4M114.2 396.0v-1.4M142.3 396.0v-1.4" stroke="#585858" stroke-width="0.7" fill="none"/>
<clipPath id="cle"><rect x="215.4" y="223.4" width="143.80" height="135.80"/></clipPath>
<g clip-path="url(#cle)"><g filter="url(#bl)"><g transform="translate(219.3,359.2) scale(4.237,-1.546)" shape-rendering="crispEdges" fill="none" stroke-width="1">
<path stroke="#7800e1" d="M-0.5 2v1M0.5 3v1M1.5 2v3M3.5 3v1M5.5 3v1M7.5 4v1M8.5 3v1"/>
<path stroke="#7f00e8" d="M-0.5 3v3M0.5 2v1M0.5 5v1M1.5 5v1M2.5 3v2M3.5 2v1M3.5 4v1M4.5 2v4M5.5 4v2M6.5 3v2M7.5 3v1M7.5 5v1M8.5 4v2M9.5 3v2"/>
<path stroke="#8700f0" d="M-0.5 6v2M0.5 4v1M0.5 6v1M1.5 6v2M2.5 5v1M2.5 7v1M3.5 5v3M4.5 7v1M5.5 6v1M6.5 5v2M9.5 5v2M10.5 3v2M11.5 3v3M12.5 3v2"/>
<path stroke="#8f00f8" d="M-0.5 8v3M0.5 7v4M1.5 8v2M2.5 6v1M2.5 8v1M4.5 6v1M5.5 7v1M6.5 7v2M7.5 6v1M8.5 6v2M9.5 7v1M10.5 5v3M11.5 6v1M12.5 5v1M13.5 3v3M14.5 3v1M15.5 5v1M16.5 5v1M17.5 4v2"/>
<path stroke="#9300ff" d="M-0.5 11v1M0.5 11v1M2.5 9v2M3.5 8v2M4.5 8v1M5.5 10v1M7.5 7v2M8.5 8v1M9.5 8v1M10.5 8v1M11.5 7v2M12.5 6v3M13.5 6v2M14.5 4v4M15.5 4v1M15.5 6v1M16.5 4v1M16.5 7v1M18.5 4v2M19.5 4v3M20.5 5v1"/>
<path stroke="#6800ff" d="M-0.5 12v1M0.5 12v1M1.5 12v1M2.5 12v1M3.5 11v2M4.5 11v1M7.5 11v1M8.5 10v3M9.5 10v2M11.5 10v2M12.5 10v1M13.5 8v2M14.5 8v2M15.5 7v2M16.5 8v1M17.5 9v1M18.5 8v3M19.5 8v1M20.5 9v2M21.5 8v1M22.5 7v2"/>
<path stroke="#5300ff" d="M-0.5 13v2M0.5 13v1M1.5 13v2M2.5 13v2M3.5 13v1M4.5 12v2M5.5 12v3M6.5 12v2M7.5 12v3M8.5 13v1M9.5 12v1M10.5 11v3M11.5 12v1M12.5 11v1M13.5 10v2M14.5 10v2M15.5 10v1M16.5 9v1M17.5 10v1M19.5 9v2M22.5 9v2M23.5 8v1"/>
<path stroke="#2700ff" d="M-0.5 15v2M-0.5 18v2M1.5 18v2M2.5 17v1M3.5 15v1M4.5 15v3M5.5 15v2M6.5 14v2M7.5 15v2M8.5 15v1M9.5 15v2M10.5 15v2M11.5 16v1M12.5 14v2M13.5 14v1M13.5 16v1M15.5 11v2M17.5 11v2M19.5 12v1M20.5 11v1M20.5 13v1M21.5 12v1M21.5 14v1M22.5 12v2M23.5 9v2M23.5 12v1M24.5 10v1"/>
<path stroke="#3d00ff" d="M-0.5 17v1M0.5 14v3M1.5 15v2M2.5 15v1M3.5 14v1M3.5 16v1M4.5 14v1M8.5 14v1M9.5 13v1M10.5 14v1M11.5 13v3M12.5 12v2M13.5 12v2M14.5 12v1M15.5 9v1M16.5 10v3M18.5 11v2M19.5 11v1M20.5 12v1M21.5 10v2M22.5 11v1M23.5 11v1"/>
<path stroke="#0002ff" d="M-0.5 20v1M-0.5 23v1M0.5 22v2M1.5 20v2M1.5 23v1M1.5 25v1M2.5 20v1M3.5 18v2M4.5 19v2M5.5 18v3M5.5 22v1M6.5 18v1M8.5 17v3M9.5 17v3M10.5 18v1M11.5 18v2M12.5 18v2M13.5 20v1M14.5 15v1M14.5 17v1M14.5 19v1M15.5 15v4M16.5 16v1M17.5 15v3M18.5 14v3M19.5 15v3M20.5 15v2M21.5 16v1M22.5 15v1M23.5 14v1M24.5 14v1M25.5 12v3"/>
<path stroke="#1100ff" d="M-0.5 21v2M0.5 17v4M1.5 17v1M2.5 16v1M2.5 18v2M3.5 17v1M4.5 18v1M5.5 17v1M6.5 16v2M7.5 17v1M8.5 16v1M9.5 14v1M10.5 17v1M11.5 17v1M12.5 16v2M13.5 15v1M13.5 17v1M14.5 13v2M14.5 16v1M15.5 13v2M16.5 13v3M17.5 13v2M18.5 13v1M19.5 13v2M20.5 14v1M21.5 13v1M22.5 14v1M23.5 13v1M24.5 11v3M25.5 11v1"/>
<path stroke="#000bff" d="M-0.5 24v2M0.5 21v1M0.5 24v1M0.5 26v1M1.5 22v1M2.5 21v4M3.5 20v3M4.5 21v3M5.5 23v2M6.5 19v4M7.5 18v2M8.5 20v2M8.5 25v1M9.5 20v1M9.5 24v1M10.5 19v1M10.5 21v1M11.5 20v3M12.5 20v2M13.5 18v2M14.5 18v1M14.5 20v2M15.5 19v1M15.5 22v1M16.5 17v2M17.5 18v1M18.5 17v1M19.5 19v1M20.5 17v1M21.5 15v1M22.5 16v2M23.5 15v2M23.5 19v1M24.5 15v1M25.5 15v1M26.5 13v4M27.5 14v3"/>
<path stroke="#0013ff" d="M-0.5 26v2M-0.5 29v1M0.5 25v1M0.5 28v1M1.5 24v1M1.5 26v4M2.5 25v1M2.5 27v2M2.5 30v1M3.5 23v5M4.5 24v4M5.5 21v1M5.5 25v3M6.5 23v4M7.5 20v7M8.5 22v3M8.5 26v1M9.5 21v3M9.5 25v1M9.5 27v1M10.5 20v1M10.5 22v3M10.5 26v1M11.5 23v1M12.5 22v3M13.5 21v3M14.5 22v1M14.5 24v1M15.5 20v2M15.5 23v2M16.5 19v2M16.5 22v2M17.5 19v2M17.5 22v1M18.5 18v2M19.5 18v1M20.5 19v2M21.5 17v2M22.5 18v2M22.5 21v1M23.5 18v1M23.5 20v1M24.5 16v1M25.5 16v2M26.5 17v2M27.5 17v2M28.5 16v2"/>
<path stroke="#001cff" d="M-0.5 28v1M-0.5 30v2M0.5 27v1M0.5 29v3M1.5 30v1M2.5 26v1M2.5 29v1M2.5 31v1M3.5 28v3M4.5 28v1M5.5 28v3M6.5 27v3M7.5 27v3M8.5 27v1M8.5 29v2M9.5 26v1M9.5 28v1M10.5 25v1M10.5 29v1M11.5 24v4M12.5 25v1M13.5 24v4M14.5 23v1M14.5 25v3M15.5 25v1M16.5 21v1M16.5 24v1M17.5 21v1M17.5 23v1M18.5 20v2M19.5 20v2M20.5 18v1M21.5 19v1M22.5 20v1M23.5 17v1M24.5 17v3M25.5 18v2M26.5 20v1M28.5 18v3M29.5 18v1"/>
<path stroke="#0026ff" d="M-0.5 32v2M0.5 32v2M1.5 31v2M2.5 32v1M3.5 31v1M4.5 29v2M4.5 32v1M5.5 31v1M6.5 30v2M7.5 30v2M8.5 28v1M9.5 29v2M10.5 27v2M10.5 30v1M11.5 28v2M12.5 26v4M13.5 28v1M14.5 28v1M14.5 32v1M15.5 26v4M16.5 25v1M16.5 27v1M17.5 24v1M18.5 22v2M19.5 22v3M20.5 21v1M21.5 20v2M23.5 23v1M24.5 20v2M25.5 21v1M26.5 19v1M26.5 21v1M27.5 19v3M28.5 21v1M29.5 19v2"/>
<path stroke="#0044ff" d="M-0.5 34v2M0.5 35v1M1.5 35v1M4.5 33v1M5.5 32v1M5.5 34v1M6.5 33v1M7.5 34v1M8.5 32v1M11.5 30v1M12.5 32v1M14.5 30v2M16.5 29v2M17.5 27v1M20.5 24v3M22.5 24v1M23.5 25v2M24.5 23v2M25.5 24v1M26.5 23v1M26.5 25v1M27.5 22v1M28.5 22v1"/>
<path stroke="#0062ff" d="M-0.5 36v1M0.5 36v3M2.5 36v2M3.5 36v1M4.5 35v1M5.5 35v2M6.5 35v1M7.5 35v2M8.5 35v1M9.5 35v1M10.5 35v1M11.5 34v2M12.5 35v1M13.5 33v1M13.5 36v1M15.5 35v1M16.5 32v1M16.5 34v1M18.5 28v2M19.5 26v1M21.5 27v1M24.5 25v1M25.5 26v2M26.5 26v1M27.5 24v3M28.5 25v1M29.5 25v1M30.5 22v1"/>
<path stroke="#0053ff" d="M-0.5 37v1M1.5 34v1M2.5 34v2M3.5 34v2M4.5 34v1M6.5 34v1M7.5 33v1M8.5 33v2M9.5 33v2M10.5 33v2M11.5 33v1M12.5 33v2M13.5 34v1M14.5 33v2M15.5 32v3M16.5 31v1M16.5 33v1M17.5 28v3M18.5 27v1M19.5 25v1M19.5 27v2M20.5 27v1M21.5 25v2M22.5 25v3M23.5 24v1M24.5 26v1M25.5 25v1M26.5 24v1M27.5 23v1M28.5 23v2M29.5 22v3M30.5 20v2"/>
<path stroke="#006fff" d="M-0.5 38v1M0.5 39v1M1.5 36v3M2.5 38v1M3.5 37v1M3.5 39v1M4.5 36v2M6.5 37v1M7.5 37v1M8.5 36v1M9.5 36v2M10.5 36v2M11.5 36v1M12.5 36v1M13.5 35v1M14.5 35v3M16.5 35v1M17.5 31v2M18.5 30v1M19.5 29v1M20.5 28v2M21.5 28v1M22.5 28v2M23.5 27v2M24.5 27v2M25.5 28v1M26.5 27v2M27.5 27v1M28.5 26v1M30.5 23v1"/>
<path stroke="#0035ff" d="M0.5 34v1M1.5 33v1M2.5 33v1M3.5 32v2M4.5 31v1M5.5 33v1M6.5 32v1M7.5 32v1M8.5 31v1M9.5 31v2M10.5 31v2M11.5 31v2M12.5 30v2M13.5 29v4M14.5 29v1M15.5 30v2M16.5 26v1M16.5 28v1M17.5 25v2M18.5 24v3M20.5 22v2M21.5 22v3M22.5 22v2M23.5 21v2M24.5 22v1M25.5 20v1M25.5 22v2M26.5 22v1M29.5 21v1"/>
<path stroke="#007cff" d="M0.5 40v3M1.5 39v1M3.5 38v1M4.5 38v2M5.5 37v1M5.5 39v1M6.5 36v1M6.5 38v1M7.5 38v2M8.5 37v2M9.5 38v1M10.5 38v1M11.5 37v2M11.5 40v1M12.5 38v1M14.5 38v1M15.5 36v2M16.5 36v1M17.5 33v1M18.5 31v1M19.5 30v3M20.5 31v1M21.5 29v1M21.5 31v1M23.5 30v1M24.5 29v1M25.5 29v2M30.5 24v2"/>
<path stroke="#0097ff" d="M0.5 43v1M1.5 42v1M1.5 45v2M2.5 41v2M2.5 45v5M3.5 41v2M3.5 48v4M4.5 41v1M5.5 51v1M6.5 40v4M7.5 41v4M8.5 40v3M9.5 42v1M9.5 44v1M10.5 39v3M11.5 39v1M13.5 39v1M14.5 40v1M15.5 38v2M16.5 38v2M17.5 36v1M18.5 34v2M19.5 34v2M22.5 31v2M23.5 31v1M24.5 31v1M25.5 32v1M26.5 31v1M27.5 29v2M28.5 27v1M29.5 29v1"/>
<path stroke="#7d00ff" d="M1.5 10v2M2.5 11v1M3.5 10v1M4.5 9v2M5.5 8v2M5.5 11v1M6.5 9v3M7.5 9v2M8.5 9v1M9.5 9v1M10.5 9v2M11.5 9v1M12.5 9v1M16.5 6v1M17.5 6v3M18.5 6v2M19.5 7v1M20.5 6v3M21.5 6v2M21.5 9v1"/>
<path stroke="#008aff" d="M1.5 40v2M1.5 43v2M2.5 39v2M3.5 40v1M4.5 40v1M5.5 38v1M5.5 40v2M6.5 39v1M7.5 40v1M8.5 39v1M9.5 39v2M10.5 42v1M12.5 37v1M12.5 39v1M13.5 37v2M13.5 40v1M16.5 37v1M17.5 34v2M18.5 32v2M19.5 33v1M20.5 30v1M20.5 32v2M21.5 30v1M22.5 30v1M23.5 29v1M24.5 30v1M25.5 31v1M26.5 29v2M27.5 28v1M28.5 28v1M29.5 26v3M30.5 26v2"/>
<path stroke="#00a5ff" d="M1.5 47v1M2.5 44v1M3.5 43v1M3.5 47v1M4.5 42v2M4.5 48v4M5.5 42v2M5.5 48v2M5.5 52v1M6.5 44v1M6.5 50v2M7.5 45v2M7.5 51v2M8.5 43v1M8.5 45v1M9.5 41v1M10.5 45v1M11.5 42v3M12.5 40v4M13.5 41v2M14.5 39v1M14.5 41v1M15.5 41v1M17.5 37v1M18.5 36v2M19.5 36v1M21.5 32v3M23.5 32v2M24.5 32v2M25.5 33v1M26.5 32v1M27.5 31v1M28.5 29v2M30.5 28v2M31.5 28v2"/>
<path stroke="#7000d9" d="M2.5 2v1"/>
<path stroke="#00b6ff" d="M2.5 43v1M3.5 46v1M4.5 45v3M5.5 44v2M5.5 47v1M5.5 50v1M6.5 45v5M6.5 52v1M7.5 47v1M7.5 49v2M7.5 53v3M8.5 44v1M8.5 46v4M8.5 52v1M8.5 54v1M9.5 43v1M9.5 46v5M10.5 43v2M10.5 46v2M11.5 41v1M11.5 49v1M12.5 44v1M12.5 46v1M14.5 42v1M15.5 40v1M15.5 43v1M16.5 40v2M17.5 38v1M18.5 38v1M20.5 34v1M20.5 36v1M21.5 35v1M22.5 33v1M23.5 34v1M25.5 34v1M26.5 33v1M27.5 32v1M28.5 31v1M30.5 30v1M31.5 30v2M31.5 33v1"/>
<path stroke="#00c9ff" d="M3.5 44v2M4.5 44v1M5.5 46v1M5.5 53v1M6.5 53v1M7.5 48v1M8.5 50v2M8.5 53v1M8.5 55v2M9.5 45v1M9.5 51v2M9.5 54v1M10.5 48v2M10.5 53v1M11.5 45v1M11.5 48v1M11.5 50v1M12.5 45v1M12.5 47v1M13.5 43v2M14.5 43v2M14.5 46v1M15.5 42v1M15.5 44v1M16.5 42v1M17.5 39v1M18.5 39v1M19.5 37v2M20.5 35v1M20.5 37v1M21.5 36v1M22.5 34v3M24.5 35v1M26.5 34v1M27.5 33v1M28.5 32v1M28.5 34v1M29.5 30v3M30.5 31v3M31.5 32v1M31.5 34v1"/>
<path stroke="#00dcff" d="M9.5 53v1M9.5 55v1M9.5 57v1M10.5 50v3M10.5 54v3M11.5 46v2M11.5 51v4M12.5 48v1M12.5 51v1M13.5 45v1M13.5 47v1M14.5 48v1M15.5 45v2M16.5 43v1M16.5 45v1M17.5 40v3M18.5 40v2M19.5 39v2M21.5 37v1M22.5 37v1M23.5 35v2M23.5 38v1M24.5 34v1M24.5 36v1M25.5 35v1M26.5 35v1M27.5 34v1M28.5 33v1M29.5 33v1M31.5 35v1"/>
<path stroke="#00f0ff" d="M9.5 56v1M9.5 58v1M10.5 57v2M11.5 55v2M12.5 49v1M12.5 52v2M13.5 46v1M13.5 48v2M14.5 45v1M14.5 47v1M14.5 49v1M16.5 44v1M16.5 46v1M19.5 41v1M20.5 38v2M21.5 38v2M22.5 38v1M23.5 37v1M24.5 37v1M25.5 36v2M26.5 36v1M27.5 35v1M28.5 35v1M29.5 34v1M30.5 34v1M31.5 36v1"/>
<path stroke="#00ffe7" d="M10.5 59v1M11.5 58v1M12.5 50v1M12.5 55v1M12.5 57v2M13.5 52v1M14.5 50v1M14.5 52v2M15.5 49v2M15.5 52v1M16.5 49v1M17.5 44v1M17.5 46v1M18.5 42v1M18.5 44v1M21.5 40v3M22.5 39v2M23.5 41v1M24.5 39v2M26.5 39v1M27.5 38v1M28.5 36v1M29.5 35v1M31.5 38v1"/>
<path stroke="#00fffb" d="M11.5 57v1M12.5 54v1M12.5 56v1M13.5 50v2M13.5 53v2M14.5 51v1M15.5 47v2M16.5 47v1M17.5 43v1M17.5 45v1M18.5 43v1M19.5 42v1M20.5 40v3M23.5 39v1M24.5 38v1M25.5 38v1M26.5 37v2M27.5 36v2M30.5 35v2M31.5 37v1"/>
<path stroke="#00ffd3" d="M11.5 59v1M13.5 55v1M13.5 57v1M14.5 56v1M15.5 51v1M16.5 48v1M17.5 47v1M18.5 47v2M19.5 43v2M22.5 42v1M23.5 40v1M24.5 41v1M25.5 39v4M26.5 40v1M27.5 39v1M28.5 38v1M29.5 36v2M30.5 37v1M31.5 39v2"/>
<path stroke="#00ffbe" d="M11.5 60v1M12.5 59v2M13.5 56v1M14.5 54v2M15.5 53v2M16.5 50v3M17.5 48v2M18.5 45v2M19.5 45v2M20.5 43v2M22.5 41v1M23.5 42v1M24.5 42v1M27.5 40v2M28.5 37v1M29.5 38v1M30.5 38v1"/>
<path stroke="#00ffaa" d="M11.5 61v1M12.5 61v2M13.5 58v2M14.5 57v2M15.5 55v1M16.5 53v2M17.5 51v1M19.5 47v1M21.5 43v1M22.5 43v1M23.5 43v1M24.5 43v1M25.5 43v1M26.5 41v2M28.5 39v2"/>
<path stroke="#00ff83" d="M13.5 60v1M13.5 62v1M14.5 59v1M15.5 57v1M15.5 59v1M16.5 55v2M17.5 52v1M17.5 54v1M18.5 49v1M19.5 51v2M20.5 48v1M21.5 45v1M22.5 44v1M23.5 46v1M24.5 45v2M27.5 43v1M29.5 40v1M30.5 40v2M31.5 42v1"/>
<path stroke="#00ff96" d="M13.5 61v1M13.5 63v1M15.5 56v1M15.5 58v1M17.5 50v1M17.5 53v1M18.5 50v3M19.5 48v2M20.5 45v2M21.5 44v1M23.5 44v1M24.5 44v1M25.5 44v2M26.5 43v2M27.5 42v1M28.5 41v2M29.5 39v1M29.5 41v1M30.5 39v1M31.5 41v1"/>
<path stroke="#00ff70" d="M14.5 60v2M15.5 60v1M16.5 57v2M17.5 57v1M19.5 50v1M19.5 53v1M20.5 47v1M20.5 49v1M21.5 46v1M22.5 45v1M22.5 47v1M23.5 47v1M26.5 45v1M27.5 44v1"/>
<path stroke="#00ff5e" d="M14.5 62v4M15.5 61v2M17.5 55v2M18.5 53v3M18.5 57v1M19.5 54v1M20.5 50v2M21.5 47v1M21.5 49v1M22.5 46v1M23.5 45v1M23.5 48v1M24.5 47v1M25.5 46v1M26.5 46v1M27.5 45v1M28.5 44v1M29.5 43v1M30.5 42v2M31.5 43v2"/>
<path stroke="#00ff4b" d="M15.5 63v1M15.5 66v1M16.5 59v2M16.5 62v1M17.5 58v2M18.5 56v1M20.5 52v2M21.5 48v1M21.5 50v1M22.5 48v1M23.5 49v1M24.5 48v1M25.5 47v2M26.5 47v1M27.5 46v1M28.5 43v1M28.5 45v1M29.5 42v1"/>
<path stroke="#00ff38" d="M15.5 64v1M16.5 61v1M16.5 65v1M18.5 58v2M19.5 55v3M20.5 54v3M21.5 52v1M22.5 49v2M23.5 50v2M24.5 49v1M25.5 49v2M26.5 48v2M29.5 44v1M30.5 44v1"/>
<path stroke="#00ff26" d="M15.5 65v1M16.5 64v1M17.5 60v3M18.5 60v2M19.5 59v1M20.5 57v2M21.5 51v1M21.5 53v3M22.5 51v1M24.5 50v1M26.5 50v1M27.5 47v2M28.5 46v2M29.5 46v1M31.5 45v2"/>
<path stroke="#00ff13" d="M16.5 63v1M16.5 67v1M17.5 63v2M17.5 66v2M18.5 62v1M19.5 58v1M19.5 60v1M21.5 56v1M22.5 52v2M22.5 55v1M23.5 52v2M24.5 51v2M25.5 51v1M26.5 51v1M27.5 49v1M28.5 48v1M29.5 45v1M30.5 45v1M31.5 47v1"/>
<path stroke="#00ff00" d="M16.5 66v1M17.5 65v1M17.5 68v2M18.5 63v2M19.5 61v1M20.5 59v2M21.5 57v1M22.5 54v1M22.5 56v1M23.5 57v1M24.5 53v3M27.5 51v1M29.5 48v2M30.5 46v3"/>
<path stroke="#1dff00" d="M18.5 65v3M19.5 62v1M20.5 61v1M21.5 58v1M21.5 60v1M22.5 57v2M23.5 54v3M24.5 56v1M25.5 52v4M26.5 53v1M27.5 50v1M28.5 49v2M29.5 47v1M30.5 49v1M31.5 48v2"/>
<path stroke="#3aff00" d="M18.5 68v1M19.5 63v2M20.5 62v1M21.5 59v1M24.5 57v1M26.5 52v1M26.5 54v2M29.5 50v2M29.5 53v1M30.5 50v1M31.5 50v1"/>
<path stroke="#57ff00" d="M18.5 69v3M19.5 65v2M19.5 69v1M20.5 63v1M21.5 62v1M22.5 60v1M24.5 58v1M25.5 57v1M26.5 58v1M27.5 52v4M28.5 51v3M30.5 51v1"/>
<path stroke="#74ff00" d="M19.5 67v2M19.5 71v2M20.5 64v3M21.5 63v2M22.5 59v1M23.5 58v2M24.5 60v1M25.5 56v1M25.5 58v1M26.5 56v2M27.5 56v1M29.5 52v1M30.5 52v1M31.5 51v1M31.5 53v1"/>
<path stroke="#92ff00" d="M19.5 70v1M20.5 67v2M22.5 61v2M22.5 65v1M23.5 60v2M23.5 63v2M24.5 59v1M24.5 62v1M25.5 59v2M27.5 58v1M28.5 54v3M30.5 53v3M31.5 54v1"/>
<path stroke="#aeff00" d="M20.5 69v1M20.5 72v1M21.5 61v1M21.5 66v1M23.5 62v1M24.5 61v1M27.5 57v1M27.5 59v1M28.5 58v1M29.5 54v3M31.5 52v1"/>
<path stroke="#dbff00" d="M20.5 70v1M20.5 74v1M21.5 68v2M21.5 71v1M22.5 66v1M22.5 68v1M22.5 70v1M22.5 75v1M23.5 69v1M24.5 71v1M25.5 72v1M25.5 74v1M26.5 61v3M27.5 61v1M27.5 65v1M28.5 57v1M28.5 66v1M29.5 59v3M30.5 56v2M30.5 61v1M31.5 55v1M31.5 59v1M31.5 64v1"/>
<path stroke="#c4ff00" d="M20.5 71v1M20.5 73v1M21.5 65v1M21.5 67v1M21.5 70v1M22.5 63v2M23.5 65v2M24.5 63v2M24.5 66v1M25.5 61v3M25.5 67v1M26.5 59v2M26.5 64v1M27.5 60v1M28.5 59v1M29.5 57v1M31.5 56v1"/>
<path stroke="#fffb00" d="M21.5 72v2M21.5 75v1M22.5 71v1M22.5 76v1M23.5 68v1M24.5 69v2M24.5 73v1M24.5 76v1M25.5 69v1M25.5 73v1M25.5 75v1M26.5 65v1M26.5 71v2M27.5 62v3M27.5 67v2M27.5 70v1M27.5 72v1M28.5 61v2M28.5 65v1M28.5 68v1M29.5 63v1M29.5 66v2M30.5 60v1M30.5 62v2M30.5 66v1M30.5 68v1M31.5 58v1M31.5 60v2"/>
<path stroke="#f1ff00" d="M21.5 74v1M22.5 67v1M22.5 69v1M22.5 72v1M23.5 67v1M23.5 70v2M23.5 73v1M23.5 75v1M24.5 65v1M24.5 67v1M24.5 72v1M24.5 74v1M25.5 64v3M25.5 68v1M25.5 70v1M26.5 66v1M26.5 68v3M26.5 73v1M27.5 66v1M28.5 60v1M28.5 63v2M28.5 69v1M29.5 58v1M29.5 62v1M29.5 64v1M30.5 58v2M31.5 57v1M31.5 62v2M31.5 65v1"/>
<path stroke="#ffe700" d="M22.5 73v2M23.5 72v1M23.5 77v1M25.5 76v1M25.5 78v3M26.5 75v1M27.5 73v1M28.5 70v2M31.5 70v1"/>
<path stroke="#fff100" d="M23.5 74v1M23.5 76v1M23.5 78v1M24.5 68v1M24.5 75v1M24.5 77v3M25.5 71v1M26.5 67v1M26.5 74v1M26.5 77v1M27.5 69v1M27.5 71v1M28.5 67v1M28.5 72v1M29.5 65v1M29.5 68v2M30.5 64v2M30.5 67v1M31.5 66v1"/>
<path stroke="#ffdc00" d="M25.5 77v1M26.5 76v1M26.5 78v3M26.5 82v1M27.5 76v1M28.5 73v2M28.5 76v1M29.5 70v1M29.5 74v1M30.5 69v1M31.5 67v2"/>
<path stroke="#ffc800" d="M26.5 81v1M27.5 82v1M28.5 77v1M29.5 75v1M31.5 71v4"/>
<path stroke="#ffd200" d="M27.5 74v2M27.5 77v3M27.5 81v1M28.5 75v1M28.5 79v1M29.5 71v1M29.5 73v1M30.5 70v3M31.5 69v1"/>
<path stroke="#ffbe00" d="M27.5 80v1M29.5 72v1M30.5 74v1"/>
<path stroke="#ffb200" d="M27.5 83v1M28.5 78v1M28.5 83v1M29.5 76v2M30.5 73v1M30.5 77v1"/>
<path stroke="#ff9800" d="M28.5 80v3M29.5 81v1M30.5 78v1M31.5 75v2"/>
<path stroke="#ff7f00" d="M28.5 84v1M29.5 80v1M29.5 82v1M30.5 79v2M30.5 84v1M31.5 79v3"/>
<path stroke="#ffa500" d="M29.5 78v1M30.5 75v2"/>
<path stroke="#ff8c00" d="M29.5 79v1M31.5 77v2"/>
<path stroke="#ff7300" d="M29.5 83v2M30.5 81v1M31.5 84v1"/>
<path stroke="#fd6a00" d="M29.5 85v1M30.5 82v2"/>
<path stroke="#fa6300" d="M30.5 85v2M31.5 82v2"/>
<path stroke="#ed4f00" d="M31.5 85v1"/>
<path stroke="#f35500" d="M31.5 86v2"/>
</g></g>
<polyline points="215.4,329.3 219.1,328.6 222.8,327.9 226.5,327.1 230.1,326.3 233.8,325.4 237.5,324.4 241.2,323.4 244.9,322.4 248.6,321.3 252.3,320.1 256.0,318.9 259.6,317.7 263.3,316.4 267.0,315.1 270.7,313.7 274.4,312.3 278.1,310.8 281.8,309.3 285.5,307.7 289.1,306.1 292.8,304.5 296.5,302.8 300.2,301.1 303.9,299.3 307.6,297.5 311.3,295.7 315.0,293.8 318.6,291.9 322.3,289.9 326.0,287.9 329.7,285.9 333.4,283.8 337.1,281.7 340.8,279.6 344.5,277.4 348.1,275.2 351.8,273.0 355.5,270.7 359.2,268.5" fill="none" stroke="#000" stroke-width="2.1"/>
</g>
<rect x="215.4" y="223.4" width="143.80" height="135.80" fill="none" stroke="#585858" stroke-width="0.9"/>
<path d="M219.3 359.2v-1.6M219.3 223.4v1.6M261.7 359.2v-1.6M261.7 223.4v1.6M304.0 359.2v-1.6M304.0 223.4v1.6M346.4 359.2v-1.6M346.4 223.4v1.6M215.4 359.2h1.6M359.2 359.2h-1.6M215.4 328.3h1.6M359.2 328.3h-1.6M215.4 297.4h1.6M359.2 297.4h-1.6M215.4 266.4h1.6M359.2 266.4h-1.6M215.4 235.5h1.6M359.2 235.5h-1.6" stroke="#585858" stroke-width="0.8" fill="none"/>
<text transform="translate(219.3,371.6) scale(1.08,1)" font-size="9.0" text-anchor="middle">0</text>
<text transform="translate(261.7,371.6) scale(1.08,1)" font-size="9.0" text-anchor="middle">10</text>
<text transform="translate(304.0,371.6) scale(1.08,1)" font-size="9.0" text-anchor="middle">20</text>
<text transform="translate(346.4,371.6) scale(1.08,1)" font-size="9.0" text-anchor="middle">30</text>
<text transform="translate(212.8,363.1) scale(1.08,1)" font-size="9.0" text-anchor="end">0</text>
<text transform="translate(212.8,332.2) scale(1.08,1)" font-size="9.0" text-anchor="end">20</text>
<text transform="translate(212.8,301.3) scale(1.08,1)" font-size="9.0" text-anchor="end">40</text>
<text transform="translate(212.8,270.3) scale(1.08,1)" font-size="9.0" text-anchor="end">60</text>
<text transform="translate(212.8,239.4) scale(1.08,1)" font-size="9.0" text-anchor="end">80</text>
<text x="287.6" y="381.8" font-size="10.8" text-anchor="middle">Sea surface temperature (°C)</text>
<text transform="translate(198.5,291.6) rotate(-90)" font-size="11.05" text-anchor="middle">Column water vapor (kg/m<tspan font-size="8.1" dy="-3.6">2</tspan><tspan dy="3.6">)</tspan></text>
<text x="284.2" y="221.4" font-size="9.4" font-weight="bold" text-anchor="middle" fill="#000">(e) Hv&gt;2800 m</text>
<linearGradient id="ge" x1="0" x2="1" y1="0" y2="0"><stop offset="0.000" stop-color="#4800a0"/><stop offset="0.060" stop-color="#6e00d7"/><stop offset="0.123" stop-color="#9600ff"/><stop offset="0.170" stop-color="#4600ff"/><stop offset="0.210" stop-color="#0000ff"/><stop offset="0.260" stop-color="#0023ff"/><stop offset="0.310" stop-color="#005fff"/><stop offset="0.380" stop-color="#00aaff"/><stop offset="0.435" stop-color="#00ffff"/><stop offset="0.500" stop-color="#00ff96"/><stop offset="0.600" stop-color="#00ff00"/><stop offset="0.673" stop-color="#aaff00"/><stop offset="0.720" stop-color="#ffff00"/><stop offset="0.800" stop-color="#ffbe00"/><stop offset="0.880" stop-color="#ff6e00"/><stop offset="0.935" stop-color="#f05000"/><stop offset="0.970" stop-color="#c83e00"/><stop offset="1.000" stop-color="#8c2d05"/></linearGradient>
<rect x="213.7" y="389.1" width="140.10" height="7.20" fill="url(#ge)" stroke="#585858" stroke-width="0.6"/>
<text x="213.9" y="407.6" font-size="8.6" text-anchor="middle">0</text>
<text x="241.8" y="407.6" font-size="8.6" text-anchor="middle">5</text>
<text x="269.7" y="407.6" font-size="8.6" text-anchor="middle">10</text>
<text x="297.6" y="407.6" font-size="8.6" text-anchor="middle">15</text>
<text x="325.5" y="407.6" font-size="8.6" text-anchor="middle">20</text>
<text x="353.4" y="407.6" font-size="8.6" text-anchor="middle">25</text>
<path d="M241.8 396.3v-1.4M269.7 396.3v-1.4M297.6 396.3v-1.4M325.5 396.3v-1.4" stroke="#585858" stroke-width="0.7" fill="none"/>
<rect x="392.6" y="223.4" width="148.80" height="140.90" fill="#fff"/>
<path d="M407.5 223.4V364.3M422.4 223.4V364.3M437.2 223.4V364.3M452.1 223.4V364.3M467.0 223.4V364.3M481.9 223.4V364.3M496.8 223.4V364.3M511.6 223.4V364.3M526.5 223.4V364.3M392.6 329.1H541.4M392.6 293.9H541.4M392.6 258.6H541.4" stroke="#ececec" stroke-width="0.8" fill="none"/>
<clipPath id="clf"><rect x="392.6" y="222.4" width="148.80" height="142.90"/></clipPath>
<g clip-path="url(#clf)" fill="none" stroke-linejoin="round">
<polyline points="397.6,347.0 402.5,354.4 407.5,357.3 412.4,355.5 417.4,351.6 422.4,349.9 427.3,348.3 432.3,353.0 437.2,351.1 442.2,349.9 447.2,349.7 452.1,351.0 457.1,350.4 462.0,349.9 467.0,341.6 472.0,336.1 476.9,334.0 481.9,349.0 486.8,343.2 491.8,345.0 496.8,345.7 501.7,349.7 506.7,336.7 511.6,338.6 516.6,330.5 521.6,333.6 526.5,305.1 531.5,322.9 536.4,297.4 541.4,296.6" stroke="#4444ff" stroke-width="0.75"/>
<path d="M395.8 347.0h3.6M397.6 345.2v3.6M396.3 345.8l2.5 2.5M396.3 348.3l2.5 -2.5M400.7 354.4h3.6M402.5 352.6v3.6M401.3 353.2l2.5 2.5M401.3 355.7l2.5 -2.5M405.7 357.3h3.6M407.5 355.5v3.6M406.2 356.0l2.5 2.5M406.2 358.5l2.5 -2.5M410.6 355.5h3.6M412.4 353.7v3.6M411.2 354.2l2.5 2.5M411.2 356.7l2.5 -2.5M415.6 351.6h3.6M417.4 349.8v3.6M416.2 350.4l2.5 2.5M416.2 352.9l2.5 -2.5M420.6 349.9h3.6M422.4 348.1v3.6M421.1 348.6l2.5 2.5M421.1 351.1l2.5 -2.5M425.5 348.3h3.6M427.3 346.5v3.6M426.1 347.0l2.5 2.5M426.1 349.5l2.5 -2.5M430.5 353.0h3.6M432.3 351.2v3.6M431.0 351.8l2.5 2.5M431.0 354.3l2.5 -2.5M435.4 351.1h3.6M437.2 349.3v3.6M436.0 349.8l2.5 2.5M436.0 352.3l2.5 -2.5M440.4 349.9h3.6M442.2 348.1v3.6M440.9 348.6l2.5 2.5M440.9 351.1l2.5 -2.5M445.4 349.7h3.6M447.2 347.9v3.6M445.9 348.4l2.5 2.5M445.9 350.9l2.5 -2.5M450.3 351.0h3.6M452.1 349.2v3.6M450.9 349.8l2.5 2.5M450.9 352.3l2.5 -2.5M455.3 350.4h3.6M457.1 348.6v3.6M455.8 349.1l2.5 2.5M455.8 351.6l2.5 -2.5M460.2 349.9h3.6M462.0 348.1v3.6M460.8 348.7l2.5 2.5M460.8 351.2l2.5 -2.5M465.2 341.6h3.6M467.0 339.8v3.6M465.8 340.4l2.5 2.5M465.8 342.9l2.5 -2.5M470.2 336.1h3.6M472.0 334.3v3.6M470.7 334.9l2.5 2.5M470.7 337.4l2.5 -2.5M475.1 334.0h3.6M476.9 332.2v3.6M475.7 332.8l2.5 2.5M475.7 335.3l2.5 -2.5M480.1 349.0h3.6M481.9 347.2v3.6M480.6 347.7l2.5 2.5M480.6 350.2l2.5 -2.5M485.0 343.2h3.6M486.8 341.4v3.6M485.6 341.9l2.5 2.5M485.6 344.4l2.5 -2.5M490.0 345.0h3.6M491.8 343.2v3.6M490.5 343.7l2.5 2.5M490.5 346.2l2.5 -2.5M495.0 345.7h3.6M496.8 343.9v3.6M495.5 344.4l2.5 2.5M495.5 346.9l2.5 -2.5M499.9 349.7h3.6M501.7 347.9v3.6M500.5 348.4l2.5 2.5M500.5 350.9l2.5 -2.5M504.9 336.7h3.6M506.7 334.9v3.6M505.4 335.4l2.5 2.5M505.4 337.9l2.5 -2.5M509.8 338.6h3.6M511.6 336.8v3.6M510.4 337.3l2.5 2.5M510.4 339.8l2.5 -2.5M514.8 330.5h3.6M516.6 328.7v3.6M515.4 329.3l2.5 2.5M515.4 331.8l2.5 -2.5M519.8 333.6h3.6M521.6 331.8v3.6M520.3 332.3l2.5 2.5M520.3 334.8l2.5 -2.5M524.7 305.1h3.6M526.5 303.3v3.6M525.3 303.9l2.5 2.5M525.3 306.4l2.5 -2.5M529.7 322.9h3.6M531.5 321.1v3.6M530.2 321.6l2.5 2.5M530.2 324.1l2.5 -2.5M534.6 297.4h3.6M536.4 295.6v3.6M535.2 296.1l2.5 2.5M535.2 298.6l2.5 -2.5M539.6 296.6h3.6M541.4 294.8v3.6M540.1 295.3l2.5 2.5M540.1 297.8l2.5 -2.5" stroke="#0000ff" stroke-width="1.05"/>
<polyline points="397.6,345.3 402.5,351.3 407.5,355.4 412.4,347.0 417.4,345.3 422.4,342.0 427.3,343.7 432.3,344.0 437.2,346.3 442.2,343.2 447.2,344.0 452.1,343.6 457.1,341.1 462.0,342.1 467.0,343.5 472.0,343.5 476.9,340.7 481.9,336.5 486.8,332.9 491.8,329.6 496.8,330.0 501.7,322.9 506.7,314.3 511.6,310.1 516.6,296.5 521.6,287.2 526.5,289.8 531.5,295.8 536.4,302.5 541.4,293.9" stroke="#ff0000" stroke-width="1.2" stroke-dasharray="1.1 1.1"/>
<polyline points="397.6,342.4 402.5,339.6 407.5,345.3 412.4,363.0 417.4,346.9 422.4,337.3 427.3,341.1 432.3,335.9 437.2,344.2 442.2,335.8 447.2,330.8 452.1,333.5 457.1,334.9 462.0,337.2 467.0,344.9 472.0,335.1 476.9,334.0 481.9,332.4 486.8,318.9 491.8,327.7 496.8,315.0 501.7,298.1 506.7,293.9 511.6,296.3 516.6,274.1 521.6,293.5 526.5,279.1 531.5,271.7 536.4,277.6 541.4,311.5" stroke="#ffa200" stroke-width="1.25" stroke-dasharray="3.4 1.2 1 1.2"/>
<polyline points="397.6,324.5 402.5,330.6 407.5,340.0 412.4,331.9 417.4,331.9 422.4,334.6 427.3,327.7 432.3,338.6 437.2,336.6 442.2,323.4 447.2,331.2 452.1,328.7 457.1,326.6 462.0,324.3 467.0,325.2 472.0,330.0 476.9,316.5 481.9,315.9 486.8,312.2 491.8,309.2 496.8,298.1 501.7,295.8 506.7,281.2 511.6,280.5 516.6,275.9 521.6,267.4 526.5,229.0 531.5,272.7 536.4,275.2 541.4,306.2" stroke="#00ee00" stroke-width="1.55" stroke-dasharray="4.4 2.9"/>
<polyline points="397.6,269.2 402.5,318.5 407.5,328.7 412.4,323.4 417.4,326.1 422.4,333.7 427.3,310.1 432.3,321.7 437.2,327.0 442.2,319.9 447.2,313.6 452.1,322.9 457.1,320.6 462.0,318.5 467.0,331.2 472.0,328.0 476.9,303.7 481.9,306.9 486.8,302.7 491.8,297.8 496.8,312.2 501.7,283.3 506.7,291.7 511.6,279.8 516.6,274.8 521.6,242.1 526.5,224.5 531.5,268.5 536.4,315.5 541.4,319.0" stroke="#000" stroke-width="1.5" stroke-linejoin="miter"/>
</g>
<rect x="418" y="232.5" width="86" height="44.5" fill="#fff"/>
<path d="M420.0 237.6H439.6" stroke="#4444ff" stroke-width="0.75"/>
<path d="M428.0 237.6h3.6M429.8 235.8v3.6M428.6 236.3l2.5 2.5M428.6 238.8l2.5 -2.5" stroke="#0000ff" stroke-width="1.05" fill="none"/>
<path d="M420.0 246.3H439.6" stroke="#ff0000" stroke-width="1.2" stroke-dasharray="1.1 1.1"/>
<path d="M420.0 255.0H439.6" stroke="#ffa200" stroke-width="1.25" stroke-dasharray="3.4 1.2 1 1.2"/>
<path d="M420.0 263.6H439.6" stroke="#00ee00" stroke-width="1.55" stroke-dasharray="4.4 2.9"/>
<path d="M420.0 272.3H439.6" stroke="#000" stroke-width="1.6"/>
<text x="441.6" y="241.2" font-size="8">Hv≤1300 m</text>
<text x="441.6" y="249.9" font-size="8">1300&lt;Hv≤1800 m</text>
<text x="441.6" y="258.6" font-size="8">1800&lt;Hv≤2300 m</text>
<text x="441.6" y="267.2" font-size="8">2300&lt;Hv≤2800 m</text>
<text x="441.6" y="275.9" font-size="8">Hv&gt;2800 m</text>
<rect x="392.6" y="223.4" width="148.80" height="140.90" fill="none" stroke="#585858" stroke-width="0.9"/>
<text x="392.6" y="376.5" font-size="10.5" text-anchor="middle">0</text>
<text x="407.5" y="376.5" font-size="10.5" text-anchor="middle">3</text>
<text x="422.4" y="376.5" font-size="10.5" text-anchor="middle">6</text>
<text x="437.2" y="376.5" font-size="10.5" text-anchor="middle">9</text>
<text x="452.1" y="376.5" font-size="10.5" text-anchor="middle">12</text>
<text x="467.0" y="376.5" font-size="10.5" text-anchor="middle">15</text>
<text x="481.9" y="376.5" font-size="10.5" text-anchor="middle">18</text>
<text x="496.8" y="376.5" font-size="10.5" text-anchor="middle">21</text>
<text x="511.6" y="376.5" font-size="10.5" text-anchor="middle">24</text>
<text x="526.5" y="376.5" font-size="10.5" text-anchor="middle">27</text>
<text x="541.4" y="376.5" font-size="10.5" text-anchor="middle">30</text>
<text x="389.4" y="368.6" font-size="10.5" text-anchor="end">0</text>
<text x="389.4" y="333.4" font-size="10.5" text-anchor="end">1</text>
<text x="389.4" y="298.2" font-size="10.5" text-anchor="end">2</text>
<text x="389.4" y="262.9" font-size="10.5" text-anchor="end">3</text>
<text x="389.4" y="227.7" font-size="10.5" text-anchor="end">4</text>
<path d="M392.6 364.3v-1.6M392.6 223.4v1.6M407.5 364.3v-1.6M407.5 223.4v1.6M422.4 364.3v-1.6M422.4 223.4v1.6M437.2 364.3v-1.6M437.2 223.4v1.6M452.1 364.3v-1.6M452.1 223.4v1.6M467.0 364.3v-1.6M467.0 223.4v1.6M481.9 364.3v-1.6M481.9 223.4v1.6M496.8 364.3v-1.6M496.8 223.4v1.6M511.6 364.3v-1.6M511.6 223.4v1.6M526.5 364.3v-1.6M526.5 223.4v1.6M541.4 364.3v-1.6M541.4 223.4v1.6M392.6 364.3h1.6M541.4 364.3h-1.6M392.6 329.1h1.6M541.4 329.1h-1.6M392.6 293.9h1.6M541.4 293.9h-1.6M392.6 258.6h1.6M541.4 258.6h-1.6M392.6 223.4h1.6M541.4 223.4h-1.6" stroke="#585858" stroke-width="0.8" fill="none"/>
<text x="467.0" y="391.6" font-size="10.8" text-anchor="middle">Sea surface temperature (°C)</text>
<text transform="translate(380.7,291.7) rotate(-90)" font-size="10.75" text-anchor="middle">Increase ratio (kg/m<tspan font-size="8.3" dy="-3.8">2</tspan><tspan dy="3.8">°C)</tspan></text>
<text x="467.3" y="220.0" font-size="11" font-weight="bold" text-anchor="middle" fill="#000">(f) All Hv ranges</text>
</svg>
</body></html>
